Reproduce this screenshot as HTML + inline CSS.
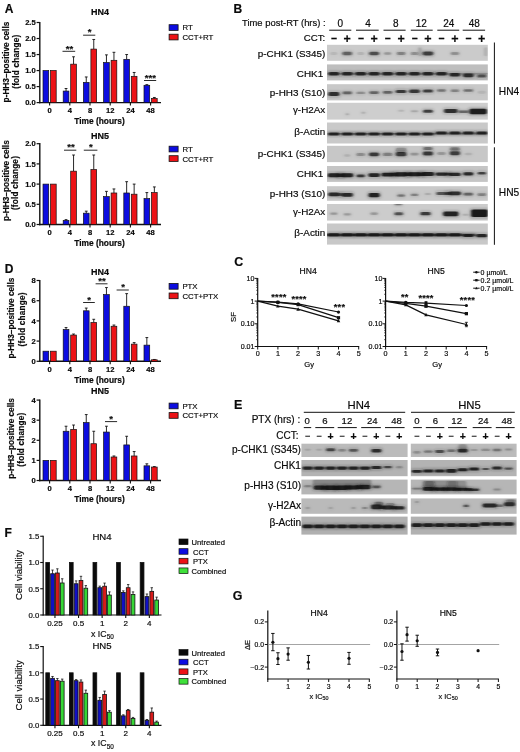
<!DOCTYPE html>
<html><head><meta charset="utf-8"><title>Figure</title>
<style>
html,body{margin:0;padding:0;background:#fff;}
body{width:520px;height:752px;overflow:hidden;}
svg{display:block;font-family:"Liberation Sans", Arial, sans-serif;filter:blur(0.35px);}
text{stroke:#0a0a0a;stroke-width:0.18px;}
</style></head><body>
<svg width="520" height="752" viewBox="0 0 520 752">
<defs><filter id="bl" x="-5%" y="-50%" width="110%" height="200%"><feGaussianBlur stdDeviation="1.0 0.7"/></filter><filter id="bl2" x="-5%" y="-80%" width="110%" height="260%"><feGaussianBlur stdDeviation="1.8 1.3"/></filter></defs>
<rect width="520" height="752" fill="#ffffff"/>
<g id="panelA">
<text x="4.8" y="13" font-size="12" font-weight="bold" text-anchor="start" fill="#0a0a0a">A</text>
<line x1="39.8" y1="21.9" x2="39.8" y2="103.3" stroke="#111" stroke-width="1.4"/>
<line x1="39.1" y1="102.6" x2="161" y2="102.6" stroke="#111" stroke-width="1.4"/>
<line x1="36.6" y1="102.6" x2="39.8" y2="102.6" stroke="#111" stroke-width="1.2"/>
<text x="35.7" y="105.3" font-size="7.6" font-weight="bold" text-anchor="end" fill="#0a0a0a">0.0</text>
<line x1="36.6" y1="86.58" x2="39.8" y2="86.58" stroke="#111" stroke-width="1.2"/>
<text x="35.7" y="89.28" font-size="7.6" font-weight="bold" text-anchor="end" fill="#0a0a0a">0.5</text>
<line x1="36.6" y1="70.56" x2="39.8" y2="70.56" stroke="#111" stroke-width="1.2"/>
<text x="35.7" y="73.26" font-size="7.6" font-weight="bold" text-anchor="end" fill="#0a0a0a">1.0</text>
<line x1="36.6" y1="54.54" x2="39.8" y2="54.54" stroke="#111" stroke-width="1.2"/>
<text x="35.7" y="57.24" font-size="7.6" font-weight="bold" text-anchor="end" fill="#0a0a0a">1.5</text>
<line x1="36.6" y1="38.52" x2="39.8" y2="38.52" stroke="#111" stroke-width="1.2"/>
<text x="35.7" y="41.22" font-size="7.6" font-weight="bold" text-anchor="end" fill="#0a0a0a">2.0</text>
<line x1="36.6" y1="22.5" x2="39.8" y2="22.5" stroke="#111" stroke-width="1.2"/>
<text x="35.7" y="25.2" font-size="7.6" font-weight="bold" text-anchor="end" fill="#0a0a0a">2.5</text>
<rect x="43" y="70.56" width="5.7" height="32.04" fill="#0c0ce0" stroke="#111" stroke-width="0.7"/>
<rect x="50.5" y="70.56" width="5.7" height="32.04" fill="#ec1216" stroke="#111" stroke-width="0.7"/>
<line x1="49.6" y1="102.6" x2="49.6" y2="105.6" stroke="#111" stroke-width="1.1"/>
<text x="49.6" y="113" font-size="7.6" font-weight="bold" text-anchor="middle" fill="#0a0a0a">0</text>
<line x1="66.05" y1="91.0656" x2="66.05" y2="88.5024" stroke="#111" stroke-width="0.9"/>
<line x1="64.65" y1="88.5024" x2="67.45" y2="88.5024" stroke="#111" stroke-width="0.9"/>
<rect x="63.2" y="91.0656" width="5.7" height="11.5344" fill="#0c0ce0" stroke="#111" stroke-width="0.7"/>
<line x1="73.55" y1="64.152" x2="73.55" y2="56.7828" stroke="#111" stroke-width="0.9"/>
<line x1="72.15" y1="56.7828" x2="74.95" y2="56.7828" stroke="#111" stroke-width="0.9"/>
<rect x="70.7" y="64.152" width="5.7" height="38.448" fill="#ec1216" stroke="#111" stroke-width="0.7"/>
<line x1="69.8" y1="102.6" x2="69.8" y2="105.6" stroke="#111" stroke-width="1.1"/>
<text x="69.8" y="113" font-size="7.6" font-weight="bold" text-anchor="middle" fill="#0a0a0a">4</text>
<line x1="86.25" y1="82.4148" x2="86.25" y2="76.968" stroke="#111" stroke-width="0.9"/>
<line x1="84.85" y1="76.968" x2="87.65" y2="76.968" stroke="#111" stroke-width="0.9"/>
<rect x="83.4" y="82.4148" width="5.7" height="20.1852" fill="#0c0ce0" stroke="#111" stroke-width="0.7"/>
<line x1="93.75" y1="49.0932" x2="93.75" y2="39.4812" stroke="#111" stroke-width="0.9"/>
<line x1="92.35" y1="39.4812" x2="95.15" y2="39.4812" stroke="#111" stroke-width="0.9"/>
<rect x="90.9" y="49.0932" width="5.7" height="53.5068" fill="#ec1216" stroke="#111" stroke-width="0.7"/>
<line x1="90" y1="102.6" x2="90" y2="105.6" stroke="#111" stroke-width="1.1"/>
<text x="90" y="113" font-size="7.6" font-weight="bold" text-anchor="middle" fill="#0a0a0a">8</text>
<line x1="106.45" y1="62.55" x2="106.45" y2="54.8604" stroke="#111" stroke-width="0.9"/>
<line x1="105.05" y1="54.8604" x2="107.85" y2="54.8604" stroke="#111" stroke-width="0.9"/>
<rect x="103.6" y="62.55" width="5.7" height="40.05" fill="#0c0ce0" stroke="#111" stroke-width="0.7"/>
<line x1="113.95" y1="60.3072" x2="113.95" y2="52.2972" stroke="#111" stroke-width="0.9"/>
<line x1="112.55" y1="52.2972" x2="115.35" y2="52.2972" stroke="#111" stroke-width="0.9"/>
<rect x="111.1" y="60.3072" width="5.7" height="42.2928" fill="#ec1216" stroke="#111" stroke-width="0.7"/>
<line x1="110.2" y1="102.6" x2="110.2" y2="105.6" stroke="#111" stroke-width="1.1"/>
<text x="110.2" y="113" font-size="7.6" font-weight="bold" text-anchor="middle" fill="#0a0a0a">12</text>
<line x1="126.65" y1="59.346" x2="126.65" y2="54.54" stroke="#111" stroke-width="0.9"/>
<line x1="125.25" y1="54.54" x2="128.05" y2="54.54" stroke="#111" stroke-width="0.9"/>
<rect x="123.8" y="59.346" width="5.7" height="43.254" fill="#0c0ce0" stroke="#111" stroke-width="0.7"/>
<line x1="134.15" y1="76.3272" x2="134.15" y2="72.4824" stroke="#111" stroke-width="0.9"/>
<line x1="132.75" y1="72.4824" x2="135.55" y2="72.4824" stroke="#111" stroke-width="0.9"/>
<rect x="131.3" y="76.3272" width="5.7" height="26.2728" fill="#ec1216" stroke="#111" stroke-width="0.7"/>
<line x1="130.4" y1="102.6" x2="130.4" y2="105.6" stroke="#111" stroke-width="1.1"/>
<text x="130.4" y="113" font-size="7.6" font-weight="bold" text-anchor="middle" fill="#0a0a0a">24</text>
<line x1="146.85" y1="85.2984" x2="146.85" y2="84.6576" stroke="#111" stroke-width="0.9"/>
<line x1="145.45" y1="84.6576" x2="148.25" y2="84.6576" stroke="#111" stroke-width="0.9"/>
<rect x="144" y="85.2984" width="5.7" height="17.3016" fill="#0c0ce0" stroke="#111" stroke-width="0.7"/>
<line x1="154.35" y1="98.4348" x2="154.35" y2="97.4736" stroke="#111" stroke-width="0.9"/>
<line x1="152.95" y1="97.4736" x2="155.75" y2="97.4736" stroke="#111" stroke-width="0.9"/>
<rect x="151.5" y="98.4348" width="5.7" height="4.1652" fill="#ec1216" stroke="#111" stroke-width="0.7"/>
<line x1="150.6" y1="102.6" x2="150.6" y2="105.6" stroke="#111" stroke-width="1.1"/>
<text x="150.6" y="113" font-size="7.6" font-weight="bold" text-anchor="middle" fill="#0a0a0a">48</text>
<text x="100" y="15.2" font-size="9" font-weight="bold" text-anchor="middle" fill="#0a0a0a">HN4</text>
<text x="99.5" y="123.5" font-size="8.4" font-weight="bold" text-anchor="middle" fill="#0a0a0a">Time (hours)</text>
<text x="8.6" y="62.05" font-size="8.25" font-weight="bold" text-anchor="middle" fill="#0a0a0a" transform="rotate(-90 8.6 62.05)">p-HH3–positive cells</text>
<text x="18.5" y="61.75" font-size="8.25" font-weight="bold" text-anchor="middle" fill="#0a0a0a" transform="rotate(-90 18.5 61.75)" textLength="54" lengthAdjust="spacing">(fold change)</text>
<line x1="62.5" y1="51.3" x2="75.2" y2="51.3" stroke="#111" stroke-width="0.9"/>
<text x="69.6" y="51.5" font-size="9.6" font-weight="bold" text-anchor="middle" fill="#0a0a0a">**</text>
<line x1="83.1" y1="35.2" x2="95.3" y2="35.2" stroke="#111" stroke-width="0.9"/>
<text x="89.6" y="35.4" font-size="9.6" font-weight="bold" text-anchor="middle" fill="#0a0a0a">*</text>
<line x1="144" y1="80.5" x2="156.2" y2="80.5" stroke="#111" stroke-width="0.9"/>
<text x="150.4" y="80.7" font-size="9.6" font-weight="bold" text-anchor="middle" fill="#0a0a0a">***</text>
<rect x="169.1" y="24.7" width="9" height="5.7" fill="#0c0ce0" stroke="#111" stroke-width="0.8"/>
<rect x="169.1" y="34.2" width="9" height="5.7" fill="#ec1216" stroke="#111" stroke-width="0.8"/>
<text x="182.4" y="30.3" font-size="7.8" text-anchor="start" fill="#0a0a0a">RT</text>
<text x="182.4" y="40" font-size="7.8" text-anchor="start" fill="#0a0a0a">CCT+RT</text>
<line x1="39.8" y1="143.1" x2="39.8" y2="225.2" stroke="#111" stroke-width="1.4"/>
<line x1="39.1" y1="224.5" x2="161" y2="224.5" stroke="#111" stroke-width="1.4"/>
<line x1="36.6" y1="224.5" x2="39.8" y2="224.5" stroke="#111" stroke-width="1.2"/>
<text x="35.7" y="227.2" font-size="7.6" font-weight="bold" text-anchor="end" fill="#0a0a0a">0.0</text>
<line x1="36.6" y1="204.3" x2="39.8" y2="204.3" stroke="#111" stroke-width="1.2"/>
<text x="35.7" y="207" font-size="7.6" font-weight="bold" text-anchor="end" fill="#0a0a0a">0.5</text>
<line x1="36.6" y1="184.1" x2="39.8" y2="184.1" stroke="#111" stroke-width="1.2"/>
<text x="35.7" y="186.8" font-size="7.6" font-weight="bold" text-anchor="end" fill="#0a0a0a">1.0</text>
<line x1="36.6" y1="163.9" x2="39.8" y2="163.9" stroke="#111" stroke-width="1.2"/>
<text x="35.7" y="166.6" font-size="7.6" font-weight="bold" text-anchor="end" fill="#0a0a0a">1.5</text>
<line x1="36.6" y1="143.7" x2="39.8" y2="143.7" stroke="#111" stroke-width="1.2"/>
<text x="35.7" y="146.4" font-size="7.6" font-weight="bold" text-anchor="end" fill="#0a0a0a">2.0</text>
<rect x="43" y="184.1" width="5.7" height="40.4" fill="#0c0ce0" stroke="#111" stroke-width="0.7"/>
<rect x="50.5" y="184.1" width="5.7" height="40.4" fill="#ec1216" stroke="#111" stroke-width="0.7"/>
<line x1="49.6" y1="224.5" x2="49.6" y2="227.5" stroke="#111" stroke-width="1.1"/>
<text x="49.6" y="234.9" font-size="7.6" font-weight="bold" text-anchor="middle" fill="#0a0a0a">0</text>
<line x1="66.05" y1="220.46" x2="66.05" y2="219.652" stroke="#111" stroke-width="0.9"/>
<line x1="64.65" y1="219.652" x2="67.45" y2="219.652" stroke="#111" stroke-width="0.9"/>
<rect x="63.2" y="220.46" width="5.7" height="4.04" fill="#0c0ce0" stroke="#111" stroke-width="0.7"/>
<line x1="73.55" y1="171.172" x2="73.55" y2="155.012" stroke="#111" stroke-width="0.9"/>
<line x1="72.15" y1="155.012" x2="74.95" y2="155.012" stroke="#111" stroke-width="0.9"/>
<rect x="70.7" y="171.172" width="5.7" height="53.328" fill="#ec1216" stroke="#111" stroke-width="0.7"/>
<line x1="69.8" y1="224.5" x2="69.8" y2="227.5" stroke="#111" stroke-width="1.1"/>
<text x="69.8" y="234.9" font-size="7.6" font-weight="bold" text-anchor="middle" fill="#0a0a0a">4</text>
<line x1="86.25" y1="213.188" x2="86.25" y2="211.168" stroke="#111" stroke-width="0.9"/>
<line x1="84.85" y1="211.168" x2="87.65" y2="211.168" stroke="#111" stroke-width="0.9"/>
<rect x="83.4" y="213.188" width="5.7" height="11.312" fill="#0c0ce0" stroke="#111" stroke-width="0.7"/>
<line x1="93.75" y1="169.556" x2="93.75" y2="155.012" stroke="#111" stroke-width="0.9"/>
<line x1="92.35" y1="155.012" x2="95.15" y2="155.012" stroke="#111" stroke-width="0.9"/>
<rect x="90.9" y="169.556" width="5.7" height="54.944" fill="#ec1216" stroke="#111" stroke-width="0.7"/>
<line x1="90" y1="224.5" x2="90" y2="227.5" stroke="#111" stroke-width="1.1"/>
<text x="90" y="234.9" font-size="7.6" font-weight="bold" text-anchor="middle" fill="#0a0a0a">8</text>
<line x1="106.45" y1="196.624" x2="106.45" y2="191.372" stroke="#111" stroke-width="0.9"/>
<line x1="105.05" y1="191.372" x2="107.85" y2="191.372" stroke="#111" stroke-width="0.9"/>
<rect x="103.6" y="196.624" width="5.7" height="27.876" fill="#0c0ce0" stroke="#111" stroke-width="0.7"/>
<line x1="113.95" y1="192.988" x2="113.95" y2="188.948" stroke="#111" stroke-width="0.9"/>
<line x1="112.55" y1="188.948" x2="115.35" y2="188.948" stroke="#111" stroke-width="0.9"/>
<rect x="111.1" y="192.988" width="5.7" height="31.512" fill="#ec1216" stroke="#111" stroke-width="0.7"/>
<line x1="110.2" y1="224.5" x2="110.2" y2="227.5" stroke="#111" stroke-width="1.1"/>
<text x="110.2" y="234.9" font-size="7.6" font-weight="bold" text-anchor="middle" fill="#0a0a0a">12</text>
<line x1="126.65" y1="192.988" x2="126.65" y2="181.676" stroke="#111" stroke-width="0.9"/>
<line x1="125.25" y1="181.676" x2="128.05" y2="181.676" stroke="#111" stroke-width="0.9"/>
<rect x="123.8" y="192.988" width="5.7" height="31.512" fill="#0c0ce0" stroke="#111" stroke-width="0.7"/>
<line x1="134.15" y1="194.2" x2="134.15" y2="184.1" stroke="#111" stroke-width="0.9"/>
<line x1="132.75" y1="184.1" x2="135.55" y2="184.1" stroke="#111" stroke-width="0.9"/>
<rect x="131.3" y="194.2" width="5.7" height="30.3" fill="#ec1216" stroke="#111" stroke-width="0.7"/>
<line x1="130.4" y1="224.5" x2="130.4" y2="227.5" stroke="#111" stroke-width="1.1"/>
<text x="130.4" y="234.9" font-size="7.6" font-weight="bold" text-anchor="middle" fill="#0a0a0a">24</text>
<line x1="146.85" y1="198.644" x2="146.85" y2="192.584" stroke="#111" stroke-width="0.9"/>
<line x1="145.45" y1="192.584" x2="148.25" y2="192.584" stroke="#111" stroke-width="0.9"/>
<rect x="144" y="198.644" width="5.7" height="25.856" fill="#0c0ce0" stroke="#111" stroke-width="0.7"/>
<line x1="154.35" y1="192.584" x2="154.35" y2="186.928" stroke="#111" stroke-width="0.9"/>
<line x1="152.95" y1="186.928" x2="155.75" y2="186.928" stroke="#111" stroke-width="0.9"/>
<rect x="151.5" y="192.584" width="5.7" height="31.916" fill="#ec1216" stroke="#111" stroke-width="0.7"/>
<line x1="150.6" y1="224.5" x2="150.6" y2="227.5" stroke="#111" stroke-width="1.1"/>
<text x="150.6" y="234.9" font-size="7.6" font-weight="bold" text-anchor="middle" fill="#0a0a0a">48</text>
<text x="100" y="139" font-size="9" font-weight="bold" text-anchor="middle" fill="#0a0a0a">HN5</text>
<text x="99.5" y="246" font-size="8.4" font-weight="bold" text-anchor="middle" fill="#0a0a0a">Time (hours)</text>
<text x="8.6" y="180.6" font-size="8.25" font-weight="bold" text-anchor="middle" fill="#0a0a0a" transform="rotate(-90 8.6 180.6)">p-HH3–positive cells</text>
<text x="18.5" y="183.1" font-size="8.25" font-weight="bold" text-anchor="middle" fill="#0a0a0a" transform="rotate(-90 18.5 183.1)" textLength="54" lengthAdjust="spacing">(fold change)</text>
<line x1="64" y1="150.2" x2="76.3" y2="150.2" stroke="#111" stroke-width="0.9"/>
<text x="71" y="150.4" font-size="9.6" font-weight="bold" text-anchor="middle" fill="#0a0a0a">**</text>
<line x1="83.8" y1="150.2" x2="97.4" y2="150.2" stroke="#111" stroke-width="0.9"/>
<text x="90.9" y="150.4" font-size="9.6" font-weight="bold" text-anchor="middle" fill="#0a0a0a">*</text>
<rect x="169.1" y="146.2" width="9" height="5.7" fill="#0c0ce0" stroke="#111" stroke-width="0.8"/>
<rect x="169.1" y="155.7" width="9" height="5.7" fill="#ec1216" stroke="#111" stroke-width="0.8"/>
<text x="182.4" y="151.8" font-size="7.8" text-anchor="start" fill="#0a0a0a">RT</text>
<text x="182.4" y="161.5" font-size="7.8" text-anchor="start" fill="#0a0a0a">CCT+RT</text>
</g>
<g id="panelD">
<text x="4.8" y="272.6" font-size="12" font-weight="bold" text-anchor="start" fill="#0a0a0a">D</text>
<line x1="39.8" y1="279.9" x2="39.8" y2="362" stroke="#111" stroke-width="1.4"/>
<line x1="39.1" y1="361.3" x2="161" y2="361.3" stroke="#111" stroke-width="1.4"/>
<line x1="36.6" y1="361.3" x2="39.8" y2="361.3" stroke="#111" stroke-width="1.2"/>
<text x="35.7" y="364" font-size="7.6" font-weight="bold" text-anchor="end" fill="#0a0a0a">0</text>
<line x1="36.6" y1="341.1" x2="39.8" y2="341.1" stroke="#111" stroke-width="1.2"/>
<text x="35.7" y="343.8" font-size="7.6" font-weight="bold" text-anchor="end" fill="#0a0a0a">2</text>
<line x1="36.6" y1="320.9" x2="39.8" y2="320.9" stroke="#111" stroke-width="1.2"/>
<text x="35.7" y="323.6" font-size="7.6" font-weight="bold" text-anchor="end" fill="#0a0a0a">4</text>
<line x1="36.6" y1="300.7" x2="39.8" y2="300.7" stroke="#111" stroke-width="1.2"/>
<text x="35.7" y="303.4" font-size="7.6" font-weight="bold" text-anchor="end" fill="#0a0a0a">6</text>
<line x1="36.6" y1="280.5" x2="39.8" y2="280.5" stroke="#111" stroke-width="1.2"/>
<text x="35.7" y="283.2" font-size="7.6" font-weight="bold" text-anchor="end" fill="#0a0a0a">8</text>
<rect x="43" y="351.2" width="5.7" height="10.1" fill="#0c0ce0" stroke="#111" stroke-width="0.7"/>
<rect x="50.5" y="351.2" width="5.7" height="10.1" fill="#ec1216" stroke="#111" stroke-width="0.7"/>
<line x1="49.6" y1="361.3" x2="49.6" y2="364.3" stroke="#111" stroke-width="1.1"/>
<text x="49.6" y="371.7" font-size="7.6" font-weight="bold" text-anchor="middle" fill="#0a0a0a">0</text>
<line x1="66.05" y1="329.586" x2="66.05" y2="327.566" stroke="#111" stroke-width="0.9"/>
<line x1="64.65" y1="327.566" x2="67.45" y2="327.566" stroke="#111" stroke-width="0.9"/>
<rect x="63.2" y="329.586" width="5.7" height="31.714" fill="#0c0ce0" stroke="#111" stroke-width="0.7"/>
<line x1="73.55" y1="335.04" x2="73.55" y2="334.03" stroke="#111" stroke-width="0.9"/>
<line x1="72.15" y1="334.03" x2="74.95" y2="334.03" stroke="#111" stroke-width="0.9"/>
<rect x="70.7" y="335.04" width="5.7" height="26.26" fill="#ec1216" stroke="#111" stroke-width="0.7"/>
<line x1="69.8" y1="361.3" x2="69.8" y2="364.3" stroke="#111" stroke-width="1.1"/>
<text x="69.8" y="371.7" font-size="7.6" font-weight="bold" text-anchor="middle" fill="#0a0a0a">4</text>
<line x1="86.25" y1="310.8" x2="86.25" y2="308.073" stroke="#111" stroke-width="0.9"/>
<line x1="84.85" y1="308.073" x2="87.65" y2="308.073" stroke="#111" stroke-width="0.9"/>
<rect x="83.4" y="310.8" width="5.7" height="50.5" fill="#0c0ce0" stroke="#111" stroke-width="0.7"/>
<line x1="93.75" y1="322.516" x2="93.75" y2="319.284" stroke="#111" stroke-width="0.9"/>
<line x1="92.35" y1="319.284" x2="95.15" y2="319.284" stroke="#111" stroke-width="0.9"/>
<rect x="90.9" y="322.516" width="5.7" height="38.784" fill="#ec1216" stroke="#111" stroke-width="0.7"/>
<line x1="90" y1="361.3" x2="90" y2="364.3" stroke="#111" stroke-width="1.1"/>
<text x="90" y="371.7" font-size="7.6" font-weight="bold" text-anchor="middle" fill="#0a0a0a">8</text>
<line x1="106.45" y1="294.64" x2="106.45" y2="287.57" stroke="#111" stroke-width="0.9"/>
<line x1="105.05" y1="287.57" x2="107.85" y2="287.57" stroke="#111" stroke-width="0.9"/>
<rect x="103.6" y="294.64" width="5.7" height="66.66" fill="#0c0ce0" stroke="#111" stroke-width="0.7"/>
<line x1="113.95" y1="326.253" x2="113.95" y2="325.041" stroke="#111" stroke-width="0.9"/>
<line x1="112.55" y1="325.041" x2="115.35" y2="325.041" stroke="#111" stroke-width="0.9"/>
<rect x="111.1" y="326.253" width="5.7" height="35.047" fill="#ec1216" stroke="#111" stroke-width="0.7"/>
<line x1="110.2" y1="361.3" x2="110.2" y2="364.3" stroke="#111" stroke-width="1.1"/>
<text x="110.2" y="371.7" font-size="7.6" font-weight="bold" text-anchor="middle" fill="#0a0a0a">12</text>
<line x1="126.65" y1="306.255" x2="126.65" y2="293.63" stroke="#111" stroke-width="0.9"/>
<line x1="125.25" y1="293.63" x2="128.05" y2="293.63" stroke="#111" stroke-width="0.9"/>
<rect x="123.8" y="306.255" width="5.7" height="55.045" fill="#0c0ce0" stroke="#111" stroke-width="0.7"/>
<line x1="134.15" y1="344.13" x2="134.15" y2="342.615" stroke="#111" stroke-width="0.9"/>
<line x1="132.75" y1="342.615" x2="135.55" y2="342.615" stroke="#111" stroke-width="0.9"/>
<rect x="131.3" y="344.13" width="5.7" height="17.17" fill="#ec1216" stroke="#111" stroke-width="0.7"/>
<line x1="130.4" y1="361.3" x2="130.4" y2="364.3" stroke="#111" stroke-width="1.1"/>
<text x="130.4" y="371.7" font-size="7.6" font-weight="bold" text-anchor="middle" fill="#0a0a0a">24</text>
<line x1="146.85" y1="345.14" x2="146.85" y2="337.565" stroke="#111" stroke-width="0.9"/>
<line x1="145.45" y1="337.565" x2="148.25" y2="337.565" stroke="#111" stroke-width="0.9"/>
<rect x="144" y="345.14" width="5.7" height="16.16" fill="#0c0ce0" stroke="#111" stroke-width="0.7"/>
<line x1="154.35" y1="359.785" x2="154.35" y2="359.482" stroke="#111" stroke-width="0.9"/>
<line x1="152.95" y1="359.482" x2="155.75" y2="359.482" stroke="#111" stroke-width="0.9"/>
<rect x="151.5" y="359.785" width="5.7" height="1.515" fill="#ec1216" stroke="#111" stroke-width="0.7"/>
<line x1="150.6" y1="361.3" x2="150.6" y2="364.3" stroke="#111" stroke-width="1.1"/>
<text x="150.6" y="371.7" font-size="7.6" font-weight="bold" text-anchor="middle" fill="#0a0a0a">48</text>
<text x="100" y="274.6" font-size="9" font-weight="bold" text-anchor="middle" fill="#0a0a0a">HN4</text>
<text x="99.5" y="382.5" font-size="8.4" font-weight="bold" text-anchor="middle" fill="#0a0a0a">Time (hours)</text>
<text x="14.4" y="318.1" font-size="8.25" font-weight="bold" text-anchor="middle" fill="#0a0a0a" transform="rotate(-90 14.4 318.1)">p-HH3–positive cells</text>
<text x="24.7" y="319.4" font-size="8.25" font-weight="bold" text-anchor="middle" fill="#0a0a0a" transform="rotate(-90 24.7 319.4)" textLength="54" lengthAdjust="spacing">(fold change)</text>
<line x1="83.1" y1="302.5" x2="94.8" y2="302.5" stroke="#111" stroke-width="0.9"/>
<text x="89" y="302.7" font-size="9.6" font-weight="bold" text-anchor="middle" fill="#0a0a0a">*</text>
<line x1="95.6" y1="283.8" x2="107.5" y2="283.8" stroke="#111" stroke-width="0.9"/>
<text x="101.9" y="284" font-size="9.6" font-weight="bold" text-anchor="middle" fill="#0a0a0a">**</text>
<line x1="116.6" y1="290" x2="128.8" y2="290" stroke="#111" stroke-width="0.9"/>
<text x="123.1" y="290.2" font-size="9.6" font-weight="bold" text-anchor="middle" fill="#0a0a0a">*</text>
<rect x="169.1" y="283.5" width="9" height="5.7" fill="#0c0ce0" stroke="#111" stroke-width="0.8"/>
<rect x="169.1" y="293" width="9" height="5.7" fill="#ec1216" stroke="#111" stroke-width="0.8"/>
<text x="182.4" y="289.1" font-size="7.8" text-anchor="start" fill="#0a0a0a">PTX</text>
<text x="182.4" y="298.8" font-size="7.8" text-anchor="start" fill="#0a0a0a">CCT+PTX</text>
<line x1="39.8" y1="399.5" x2="39.8" y2="481.2" stroke="#111" stroke-width="1.4"/>
<line x1="39.1" y1="480.5" x2="161" y2="480.5" stroke="#111" stroke-width="1.4"/>
<line x1="36.6" y1="480.5" x2="39.8" y2="480.5" stroke="#111" stroke-width="1.2"/>
<text x="35.7" y="483.2" font-size="7.6" font-weight="bold" text-anchor="end" fill="#0a0a0a">0</text>
<line x1="36.6" y1="460.4" x2="39.8" y2="460.4" stroke="#111" stroke-width="1.2"/>
<text x="35.7" y="463.1" font-size="7.6" font-weight="bold" text-anchor="end" fill="#0a0a0a">1</text>
<line x1="36.6" y1="440.3" x2="39.8" y2="440.3" stroke="#111" stroke-width="1.2"/>
<text x="35.7" y="443" font-size="7.6" font-weight="bold" text-anchor="end" fill="#0a0a0a">2</text>
<line x1="36.6" y1="420.2" x2="39.8" y2="420.2" stroke="#111" stroke-width="1.2"/>
<text x="35.7" y="422.9" font-size="7.6" font-weight="bold" text-anchor="end" fill="#0a0a0a">3</text>
<line x1="36.6" y1="400.1" x2="39.8" y2="400.1" stroke="#111" stroke-width="1.2"/>
<text x="35.7" y="402.8" font-size="7.6" font-weight="bold" text-anchor="end" fill="#0a0a0a">4</text>
<rect x="43" y="460.4" width="5.7" height="20.1" fill="#0c0ce0" stroke="#111" stroke-width="0.7"/>
<rect x="50.5" y="460.4" width="5.7" height="20.1" fill="#ec1216" stroke="#111" stroke-width="0.7"/>
<line x1="49.6" y1="480.5" x2="49.6" y2="483.5" stroke="#111" stroke-width="1.1"/>
<text x="49.6" y="490.9" font-size="7.6" font-weight="bold" text-anchor="middle" fill="#0a0a0a">0</text>
<line x1="66.05" y1="431.255" x2="66.05" y2="426.23" stroke="#111" stroke-width="0.9"/>
<line x1="64.65" y1="426.23" x2="67.45" y2="426.23" stroke="#111" stroke-width="0.9"/>
<rect x="63.2" y="431.255" width="5.7" height="49.245" fill="#0c0ce0" stroke="#111" stroke-width="0.7"/>
<line x1="73.55" y1="429.446" x2="73.55" y2="425.024" stroke="#111" stroke-width="0.9"/>
<line x1="72.15" y1="425.024" x2="74.95" y2="425.024" stroke="#111" stroke-width="0.9"/>
<rect x="70.7" y="429.446" width="5.7" height="51.054" fill="#ec1216" stroke="#111" stroke-width="0.7"/>
<line x1="69.8" y1="480.5" x2="69.8" y2="483.5" stroke="#111" stroke-width="1.1"/>
<text x="69.8" y="490.9" font-size="7.6" font-weight="bold" text-anchor="middle" fill="#0a0a0a">4</text>
<line x1="86.25" y1="422.612" x2="86.25" y2="414.572" stroke="#111" stroke-width="0.9"/>
<line x1="84.85" y1="414.572" x2="87.65" y2="414.572" stroke="#111" stroke-width="0.9"/>
<rect x="83.4" y="422.612" width="5.7" height="57.888" fill="#0c0ce0" stroke="#111" stroke-width="0.7"/>
<line x1="93.75" y1="443.717" x2="93.75" y2="431.255" stroke="#111" stroke-width="0.9"/>
<line x1="92.35" y1="431.255" x2="95.15" y2="431.255" stroke="#111" stroke-width="0.9"/>
<rect x="90.9" y="443.717" width="5.7" height="36.783" fill="#ec1216" stroke="#111" stroke-width="0.7"/>
<line x1="90" y1="480.5" x2="90" y2="483.5" stroke="#111" stroke-width="1.1"/>
<text x="90" y="490.9" font-size="7.6" font-weight="bold" text-anchor="middle" fill="#0a0a0a">8</text>
<line x1="106.45" y1="432.059" x2="106.45" y2="426.23" stroke="#111" stroke-width="0.9"/>
<line x1="105.05" y1="426.23" x2="107.85" y2="426.23" stroke="#111" stroke-width="0.9"/>
<rect x="103.6" y="432.059" width="5.7" height="48.441" fill="#0c0ce0" stroke="#111" stroke-width="0.7"/>
<line x1="113.95" y1="456.983" x2="113.95" y2="455.978" stroke="#111" stroke-width="0.9"/>
<line x1="112.55" y1="455.978" x2="115.35" y2="455.978" stroke="#111" stroke-width="0.9"/>
<rect x="111.1" y="456.983" width="5.7" height="23.517" fill="#ec1216" stroke="#111" stroke-width="0.7"/>
<line x1="110.2" y1="480.5" x2="110.2" y2="483.5" stroke="#111" stroke-width="1.1"/>
<text x="110.2" y="490.9" font-size="7.6" font-weight="bold" text-anchor="middle" fill="#0a0a0a">12</text>
<line x1="126.65" y1="444.923" x2="126.65" y2="436.28" stroke="#111" stroke-width="0.9"/>
<line x1="125.25" y1="436.28" x2="128.05" y2="436.28" stroke="#111" stroke-width="0.9"/>
<rect x="123.8" y="444.923" width="5.7" height="35.577" fill="#0c0ce0" stroke="#111" stroke-width="0.7"/>
<line x1="134.15" y1="455.978" x2="134.15" y2="451.556" stroke="#111" stroke-width="0.9"/>
<line x1="132.75" y1="451.556" x2="135.55" y2="451.556" stroke="#111" stroke-width="0.9"/>
<rect x="131.3" y="455.978" width="5.7" height="24.522" fill="#ec1216" stroke="#111" stroke-width="0.7"/>
<line x1="130.4" y1="480.5" x2="130.4" y2="483.5" stroke="#111" stroke-width="1.1"/>
<text x="130.4" y="490.9" font-size="7.6" font-weight="bold" text-anchor="middle" fill="#0a0a0a">24</text>
<line x1="146.85" y1="465.827" x2="146.85" y2="463.817" stroke="#111" stroke-width="0.9"/>
<line x1="145.45" y1="463.817" x2="148.25" y2="463.817" stroke="#111" stroke-width="0.9"/>
<rect x="144" y="465.827" width="5.7" height="14.673" fill="#0c0ce0" stroke="#111" stroke-width="0.7"/>
<line x1="154.35" y1="467.033" x2="154.35" y2="466.631" stroke="#111" stroke-width="0.9"/>
<line x1="152.95" y1="466.631" x2="155.75" y2="466.631" stroke="#111" stroke-width="0.9"/>
<rect x="151.5" y="467.033" width="5.7" height="13.467" fill="#ec1216" stroke="#111" stroke-width="0.7"/>
<line x1="150.6" y1="480.5" x2="150.6" y2="483.5" stroke="#111" stroke-width="1.1"/>
<text x="150.6" y="490.9" font-size="7.6" font-weight="bold" text-anchor="middle" fill="#0a0a0a">48</text>
<text x="100" y="394" font-size="9" font-weight="bold" text-anchor="middle" fill="#0a0a0a">HN5</text>
<text x="99.5" y="502" font-size="8.4" font-weight="bold" text-anchor="middle" fill="#0a0a0a">Time (hours)</text>
<text x="14.4" y="438.5" font-size="8.25" font-weight="bold" text-anchor="middle" fill="#0a0a0a" transform="rotate(-90 14.4 438.5)">p-HH3–positive cells</text>
<text x="24.5" y="439.7" font-size="8.25" font-weight="bold" text-anchor="middle" fill="#0a0a0a" transform="rotate(-90 24.5 439.7)" textLength="54" lengthAdjust="spacing">(fold change)</text>
<line x1="105" y1="421.6" x2="117.1" y2="421.6" stroke="#111" stroke-width="0.9"/>
<text x="111.2" y="421.8" font-size="9.6" font-weight="bold" text-anchor="middle" fill="#0a0a0a">*</text>
<rect x="169.1" y="403.1" width="9" height="5.7" fill="#0c0ce0" stroke="#111" stroke-width="0.8"/>
<rect x="169.1" y="412.6" width="9" height="5.7" fill="#ec1216" stroke="#111" stroke-width="0.8"/>
<text x="182.4" y="408.7" font-size="7.8" text-anchor="start" fill="#0a0a0a">PTX</text>
<text x="182.4" y="418.4" font-size="7.8" text-anchor="start" fill="#0a0a0a">CCT+PTX</text>
</g>
<g id="panelF">
<text x="4.6" y="536.6" font-size="12" font-weight="bold" text-anchor="start" fill="#0a0a0a">F</text>
<line x1="43.2" y1="535.75" x2="43.2" y2="615.5" stroke="#111" stroke-width="1.2"/>
<line x1="42.7" y1="615" x2="161.5" y2="615" stroke="#111" stroke-width="1.2"/>
<line x1="40.2" y1="615" x2="43.2" y2="615" stroke="#111" stroke-width="1.1"/>
<text x="39.3" y="617.9" font-size="7.8" text-anchor="end" fill="#0a0a0a">0.0</text>
<line x1="40.2" y1="588.75" x2="43.2" y2="588.75" stroke="#111" stroke-width="1.1"/>
<text x="39.3" y="591.65" font-size="7.8" text-anchor="end" fill="#0a0a0a">0.5</text>
<line x1="40.2" y1="562.5" x2="43.2" y2="562.5" stroke="#111" stroke-width="1.1"/>
<text x="39.3" y="565.4" font-size="7.8" text-anchor="end" fill="#0a0a0a">1.0</text>
<line x1="40.2" y1="536.25" x2="43.2" y2="536.25" stroke="#111" stroke-width="1.1"/>
<text x="39.3" y="539.15" font-size="7.8" text-anchor="end" fill="#0a0a0a">1.5</text>
<rect x="45.8" y="562.5" width="3.75" height="52.5" fill="#0a0a0a" stroke="#111" stroke-width="0.8"/>
<line x1="52.525" y1="573.735" x2="52.525" y2="570.06" stroke="#111" stroke-width="0.8"/>
<line x1="51.325" y1="570.06" x2="53.725" y2="570.06" stroke="#111" stroke-width="0.8"/>
<rect x="50.65" y="573.735" width="3.75" height="41.265" fill="#1010c4" stroke="#111" stroke-width="0.8"/>
<line x1="57.375" y1="573" x2="57.375" y2="568.8" stroke="#111" stroke-width="0.8"/>
<line x1="56.175" y1="568.8" x2="58.575" y2="568.8" stroke="#111" stroke-width="0.8"/>
<rect x="55.5" y="573" width="3.75" height="42" fill="#d61a1a" stroke="#111" stroke-width="0.8"/>
<line x1="62.225" y1="582.975" x2="62.225" y2="578.775" stroke="#111" stroke-width="0.8"/>
<line x1="61.025" y1="578.775" x2="63.425" y2="578.775" stroke="#111" stroke-width="0.8"/>
<rect x="60.35" y="582.975" width="3.75" height="32.025" fill="#36d636" stroke="#111" stroke-width="0.8"/>
<line x1="54.95" y1="615" x2="54.95" y2="618" stroke="#111" stroke-width="1.1"/>
<text x="54.95" y="626" font-size="8" text-anchor="middle" fill="#0a0a0a">0.25</text>
<rect x="69.4" y="562.5" width="3.75" height="52.5" fill="#0a0a0a" stroke="#111" stroke-width="0.8"/>
<line x1="76.125" y1="583.763" x2="76.125" y2="580.875" stroke="#111" stroke-width="0.8"/>
<line x1="74.925" y1="580.875" x2="77.325" y2="580.875" stroke="#111" stroke-width="0.8"/>
<rect x="74.25" y="583.763" width="3.75" height="31.2375" fill="#1010c4" stroke="#111" stroke-width="0.8"/>
<line x1="80.975" y1="580.508" x2="80.975" y2="576.308" stroke="#111" stroke-width="0.8"/>
<line x1="79.775" y1="576.308" x2="82.175" y2="576.308" stroke="#111" stroke-width="0.8"/>
<rect x="79.1" y="580.508" width="3.75" height="34.4925" fill="#d61a1a" stroke="#111" stroke-width="0.8"/>
<line x1="85.825" y1="588.225" x2="85.825" y2="585.6" stroke="#111" stroke-width="0.8"/>
<line x1="84.625" y1="585.6" x2="87.025" y2="585.6" stroke="#111" stroke-width="0.8"/>
<rect x="83.95" y="588.225" width="3.75" height="26.775" fill="#36d636" stroke="#111" stroke-width="0.8"/>
<line x1="78.55" y1="615" x2="78.55" y2="618" stroke="#111" stroke-width="1.1"/>
<text x="78.55" y="626" font-size="8" text-anchor="middle" fill="#0a0a0a">0.5</text>
<rect x="93" y="562.5" width="3.75" height="52.5" fill="#0a0a0a" stroke="#111" stroke-width="0.8"/>
<line x1="99.725" y1="587.7" x2="99.725" y2="586.125" stroke="#111" stroke-width="0.8"/>
<line x1="98.525" y1="586.125" x2="100.925" y2="586.125" stroke="#111" stroke-width="0.8"/>
<rect x="97.85" y="587.7" width="3.75" height="27.3" fill="#1010c4" stroke="#111" stroke-width="0.8"/>
<line x1="104.575" y1="586.23" x2="104.575" y2="583.08" stroke="#111" stroke-width="0.8"/>
<line x1="103.375" y1="583.08" x2="105.775" y2="583.08" stroke="#111" stroke-width="0.8"/>
<rect x="102.7" y="586.23" width="3.75" height="28.77" fill="#d61a1a" stroke="#111" stroke-width="0.8"/>
<line x1="109.425" y1="595.05" x2="109.425" y2="591.9" stroke="#111" stroke-width="0.8"/>
<line x1="108.225" y1="591.9" x2="110.625" y2="591.9" stroke="#111" stroke-width="0.8"/>
<rect x="107.55" y="595.05" width="3.75" height="19.95" fill="#36d636" stroke="#111" stroke-width="0.8"/>
<line x1="102.15" y1="615" x2="102.15" y2="618" stroke="#111" stroke-width="1.1"/>
<text x="102.15" y="626" font-size="8" text-anchor="middle" fill="#0a0a0a">1</text>
<rect x="116.6" y="562.5" width="3.75" height="52.5" fill="#0a0a0a" stroke="#111" stroke-width="0.8"/>
<line x1="123.325" y1="592.425" x2="123.325" y2="590.85" stroke="#111" stroke-width="0.8"/>
<line x1="122.125" y1="590.85" x2="124.525" y2="590.85" stroke="#111" stroke-width="0.8"/>
<rect x="121.45" y="592.425" width="3.75" height="22.575" fill="#1010c4" stroke="#111" stroke-width="0.8"/>
<line x1="128.175" y1="587.7" x2="128.175" y2="584.55" stroke="#111" stroke-width="0.8"/>
<line x1="126.975" y1="584.55" x2="129.375" y2="584.55" stroke="#111" stroke-width="0.8"/>
<rect x="126.3" y="587.7" width="3.75" height="27.3" fill="#d61a1a" stroke="#111" stroke-width="0.8"/>
<line x1="133.025" y1="594.525" x2="133.025" y2="591.9" stroke="#111" stroke-width="0.8"/>
<line x1="131.825" y1="591.9" x2="134.225" y2="591.9" stroke="#111" stroke-width="0.8"/>
<rect x="131.15" y="594.525" width="3.75" height="20.475" fill="#36d636" stroke="#111" stroke-width="0.8"/>
<line x1="125.75" y1="615" x2="125.75" y2="618" stroke="#111" stroke-width="1.1"/>
<text x="125.75" y="626" font-size="8" text-anchor="middle" fill="#0a0a0a">2</text>
<rect x="140.2" y="562.5" width="3.75" height="52.5" fill="#0a0a0a" stroke="#111" stroke-width="0.8"/>
<line x1="146.925" y1="596.625" x2="146.925" y2="594" stroke="#111" stroke-width="0.8"/>
<line x1="145.725" y1="594" x2="148.125" y2="594" stroke="#111" stroke-width="0.8"/>
<rect x="145.05" y="596.625" width="3.75" height="18.375" fill="#1010c4" stroke="#111" stroke-width="0.8"/>
<line x1="151.775" y1="591.375" x2="151.775" y2="587.7" stroke="#111" stroke-width="0.8"/>
<line x1="150.575" y1="587.7" x2="152.975" y2="587.7" stroke="#111" stroke-width="0.8"/>
<rect x="149.9" y="591.375" width="3.75" height="23.625" fill="#d61a1a" stroke="#111" stroke-width="0.8"/>
<line x1="156.625" y1="600.038" x2="156.625" y2="597.15" stroke="#111" stroke-width="0.8"/>
<line x1="155.425" y1="597.15" x2="157.825" y2="597.15" stroke="#111" stroke-width="0.8"/>
<rect x="154.75" y="600.038" width="3.75" height="14.9625" fill="#36d636" stroke="#111" stroke-width="0.8"/>
<line x1="149.35" y1="615" x2="149.35" y2="618" stroke="#111" stroke-width="1.1"/>
<text x="149.35" y="626" font-size="8" text-anchor="middle" fill="#0a0a0a">4</text>
<text x="102" y="540" font-size="9.6" text-anchor="middle" fill="#0a0a0a">HN4</text>
<text x="91" y="636.6" font-size="8.8" fill="#111">x IC<tspan font-size="6.4" dy="2.2">50</tspan></text>
<text x="21.9" y="575.025" font-size="9.5" text-anchor="middle" fill="#0a0a0a" transform="rotate(-90 21.9 575.025)">Cell viability</text>
<rect x="179" y="539" width="9" height="5.6" fill="#0a0a0a" stroke="#111" stroke-width="0.7"/>
<text x="191.6" y="544.9" font-size="7.6" text-anchor="start" fill="#0a0a0a">Untreated</text>
<rect x="179" y="548.65" width="9" height="5.6" fill="#0c0ce0" stroke="#111" stroke-width="0.7"/>
<text x="193" y="554.55" font-size="7.6" text-anchor="start" fill="#0a0a0a">CCT</text>
<rect x="179" y="558.3" width="9" height="5.6" fill="#ec1216" stroke="#111" stroke-width="0.7"/>
<text x="193" y="564.2" font-size="7.6" text-anchor="start" fill="#0a0a0a">PTX</text>
<rect x="179" y="567.95" width="9" height="5.6" fill="#3fe03a" stroke="#111" stroke-width="0.7"/>
<text x="191.6" y="573.85" font-size="7.6" text-anchor="start" fill="#0a0a0a">Combined</text>
<line x1="43.2" y1="646.05" x2="43.2" y2="725.8" stroke="#111" stroke-width="1.2"/>
<line x1="42.7" y1="725.3" x2="161.5" y2="725.3" stroke="#111" stroke-width="1.2"/>
<line x1="40.2" y1="725.3" x2="43.2" y2="725.3" stroke="#111" stroke-width="1.1"/>
<text x="39.3" y="728.2" font-size="7.8" text-anchor="end" fill="#0a0a0a">0.0</text>
<line x1="40.2" y1="699.05" x2="43.2" y2="699.05" stroke="#111" stroke-width="1.1"/>
<text x="39.3" y="701.95" font-size="7.8" text-anchor="end" fill="#0a0a0a">0.5</text>
<line x1="40.2" y1="672.8" x2="43.2" y2="672.8" stroke="#111" stroke-width="1.1"/>
<text x="39.3" y="675.7" font-size="7.8" text-anchor="end" fill="#0a0a0a">1.0</text>
<line x1="40.2" y1="646.55" x2="43.2" y2="646.55" stroke="#111" stroke-width="1.1"/>
<text x="39.3" y="649.45" font-size="7.8" text-anchor="end" fill="#0a0a0a">1.5</text>
<rect x="45.8" y="672.8" width="3.75" height="52.5" fill="#0a0a0a" stroke="#111" stroke-width="0.8"/>
<line x1="52.525" y1="678.312" x2="52.525" y2="676.475" stroke="#111" stroke-width="0.8"/>
<line x1="51.325" y1="676.475" x2="53.725" y2="676.475" stroke="#111" stroke-width="0.8"/>
<rect x="50.65" y="678.312" width="3.75" height="46.9875" fill="#1010c4" stroke="#111" stroke-width="0.8"/>
<line x1="57.375" y1="680.675" x2="57.375" y2="678.575" stroke="#111" stroke-width="0.8"/>
<line x1="56.175" y1="678.575" x2="58.575" y2="678.575" stroke="#111" stroke-width="0.8"/>
<rect x="55.5" y="680.675" width="3.75" height="44.625" fill="#d61a1a" stroke="#111" stroke-width="0.8"/>
<line x1="62.225" y1="681.2" x2="62.225" y2="679.1" stroke="#111" stroke-width="0.8"/>
<line x1="61.025" y1="679.1" x2="63.425" y2="679.1" stroke="#111" stroke-width="0.8"/>
<rect x="60.35" y="681.2" width="3.75" height="44.1" fill="#36d636" stroke="#111" stroke-width="0.8"/>
<line x1="54.95" y1="725.3" x2="54.95" y2="728.3" stroke="#111" stroke-width="1.1"/>
<text x="54.95" y="736.3" font-size="8" text-anchor="middle" fill="#0a0a0a">0.25</text>
<rect x="69.4" y="672.8" width="3.75" height="52.5" fill="#0a0a0a" stroke="#111" stroke-width="0.8"/>
<line x1="76.125" y1="680.675" x2="76.125" y2="679.625" stroke="#111" stroke-width="0.8"/>
<line x1="74.925" y1="679.625" x2="77.325" y2="679.625" stroke="#111" stroke-width="0.8"/>
<rect x="74.25" y="680.675" width="3.75" height="44.625" fill="#1010c4" stroke="#111" stroke-width="0.8"/>
<line x1="80.975" y1="682.04" x2="80.975" y2="679.94" stroke="#111" stroke-width="0.8"/>
<line x1="79.775" y1="679.94" x2="82.175" y2="679.94" stroke="#111" stroke-width="0.8"/>
<rect x="79.1" y="682.04" width="3.75" height="43.26" fill="#d61a1a" stroke="#111" stroke-width="0.8"/>
<line x1="85.825" y1="693.275" x2="85.825" y2="690.125" stroke="#111" stroke-width="0.8"/>
<line x1="84.625" y1="690.125" x2="87.025" y2="690.125" stroke="#111" stroke-width="0.8"/>
<rect x="83.95" y="693.275" width="3.75" height="32.025" fill="#36d636" stroke="#111" stroke-width="0.8"/>
<line x1="78.55" y1="725.3" x2="78.55" y2="728.3" stroke="#111" stroke-width="1.1"/>
<text x="78.55" y="736.3" font-size="8" text-anchor="middle" fill="#0a0a0a">0.5</text>
<rect x="93" y="672.8" width="3.75" height="52.5" fill="#0a0a0a" stroke="#111" stroke-width="0.8"/>
<line x1="99.725" y1="700.31" x2="99.725" y2="697.422" stroke="#111" stroke-width="0.8"/>
<line x1="98.525" y1="697.422" x2="100.925" y2="697.422" stroke="#111" stroke-width="0.8"/>
<rect x="97.85" y="700.31" width="3.75" height="24.99" fill="#1010c4" stroke="#111" stroke-width="0.8"/>
<line x1="104.575" y1="694.535" x2="104.575" y2="691.122" stroke="#111" stroke-width="0.8"/>
<line x1="103.375" y1="691.122" x2="105.775" y2="691.122" stroke="#111" stroke-width="0.8"/>
<rect x="102.7" y="694.535" width="3.75" height="30.765" fill="#d61a1a" stroke="#111" stroke-width="0.8"/>
<line x1="109.425" y1="712.175" x2="109.425" y2="710.6" stroke="#111" stroke-width="0.8"/>
<line x1="108.225" y1="710.6" x2="110.625" y2="710.6" stroke="#111" stroke-width="0.8"/>
<rect x="107.55" y="712.175" width="3.75" height="13.125" fill="#36d636" stroke="#111" stroke-width="0.8"/>
<line x1="102.15" y1="725.3" x2="102.15" y2="728.3" stroke="#111" stroke-width="1.1"/>
<text x="102.15" y="736.3" font-size="8" text-anchor="middle" fill="#0a0a0a">1</text>
<rect x="116.6" y="672.8" width="3.75" height="52.5" fill="#0a0a0a" stroke="#111" stroke-width="0.8"/>
<line x1="123.325" y1="715.85" x2="123.325" y2="714.8" stroke="#111" stroke-width="0.8"/>
<line x1="122.125" y1="714.8" x2="124.525" y2="714.8" stroke="#111" stroke-width="0.8"/>
<rect x="121.45" y="715.85" width="3.75" height="9.45" fill="#1010c4" stroke="#111" stroke-width="0.8"/>
<line x1="128.175" y1="710.285" x2="128.175" y2="709.497" stroke="#111" stroke-width="0.8"/>
<line x1="126.975" y1="709.497" x2="129.375" y2="709.497" stroke="#111" stroke-width="0.8"/>
<rect x="126.3" y="710.285" width="3.75" height="15.015" fill="#d61a1a" stroke="#111" stroke-width="0.8"/>
<line x1="133.025" y1="718.475" x2="133.025" y2="717.425" stroke="#111" stroke-width="0.8"/>
<line x1="131.825" y1="717.425" x2="134.225" y2="717.425" stroke="#111" stroke-width="0.8"/>
<rect x="131.15" y="718.475" width="3.75" height="6.825" fill="#36d636" stroke="#111" stroke-width="0.8"/>
<line x1="125.75" y1="725.3" x2="125.75" y2="728.3" stroke="#111" stroke-width="1.1"/>
<text x="125.75" y="736.3" font-size="8" text-anchor="middle" fill="#0a0a0a">2</text>
<rect x="140.2" y="672.8" width="3.75" height="52.5" fill="#0a0a0a" stroke="#111" stroke-width="0.8"/>
<line x1="146.925" y1="720.312" x2="146.925" y2="719.525" stroke="#111" stroke-width="0.8"/>
<line x1="145.725" y1="719.525" x2="148.125" y2="719.525" stroke="#111" stroke-width="0.8"/>
<rect x="145.05" y="720.312" width="3.75" height="4.9875" fill="#1010c4" stroke="#111" stroke-width="0.8"/>
<line x1="151.775" y1="712.175" x2="151.775" y2="707.975" stroke="#111" stroke-width="0.8"/>
<line x1="150.575" y1="707.975" x2="152.975" y2="707.975" stroke="#111" stroke-width="0.8"/>
<rect x="149.9" y="712.175" width="3.75" height="13.125" fill="#d61a1a" stroke="#111" stroke-width="0.8"/>
<line x1="156.625" y1="722.15" x2="156.625" y2="721.1" stroke="#111" stroke-width="0.8"/>
<line x1="155.425" y1="721.1" x2="157.825" y2="721.1" stroke="#111" stroke-width="0.8"/>
<rect x="154.75" y="722.15" width="3.75" height="3.15" fill="#36d636" stroke="#111" stroke-width="0.8"/>
<line x1="149.35" y1="725.3" x2="149.35" y2="728.3" stroke="#111" stroke-width="1.1"/>
<text x="149.35" y="736.3" font-size="8" text-anchor="middle" fill="#0a0a0a">4</text>
<text x="102" y="649" font-size="9.6" text-anchor="middle" fill="#0a0a0a">HN5</text>
<text x="91" y="746.4" font-size="8.8" fill="#111">x IC<tspan font-size="6.4" dy="2.2">50</tspan></text>
<text x="21.9" y="685.325" font-size="9.5" text-anchor="middle" fill="#0a0a0a" transform="rotate(-90 21.9 685.325)">Cell viability</text>
<rect x="179" y="649.6" width="9" height="5.6" fill="#0a0a0a" stroke="#111" stroke-width="0.7"/>
<text x="191.6" y="655.5" font-size="7.6" text-anchor="start" fill="#0a0a0a">Untreated</text>
<rect x="179" y="659.25" width="9" height="5.6" fill="#0c0ce0" stroke="#111" stroke-width="0.7"/>
<text x="193" y="665.15" font-size="7.6" text-anchor="start" fill="#0a0a0a">CCT</text>
<rect x="179" y="668.9" width="9" height="5.6" fill="#ec1216" stroke="#111" stroke-width="0.7"/>
<text x="193" y="674.8" font-size="7.6" text-anchor="start" fill="#0a0a0a">PTX</text>
<rect x="179" y="678.55" width="9" height="5.6" fill="#3fe03a" stroke="#111" stroke-width="0.7"/>
<text x="191.6" y="684.45" font-size="7.6" text-anchor="start" fill="#0a0a0a">Combined</text>
</g>
<g id="panelC">
<text x="234.2" y="265.8" font-size="12.4" font-weight="bold" text-anchor="start" fill="#0a0a0a">C</text>
<line x1="257.7" y1="277.9" x2="257.7" y2="347" stroke="#111" stroke-width="1.2"/>
<line x1="257.2" y1="346.5" x2="359.2" y2="346.5" stroke="#111" stroke-width="1.2"/>
<line x1="256.2" y1="339.667" x2="257.7" y2="339.667" stroke="#111" stroke-width="0.7"/>
<line x1="256.2" y1="335.669" x2="257.7" y2="335.669" stroke="#111" stroke-width="0.7"/>
<line x1="256.2" y1="332.833" x2="257.7" y2="332.833" stroke="#111" stroke-width="0.7"/>
<line x1="256.2" y1="330.633" x2="257.7" y2="330.633" stroke="#111" stroke-width="0.7"/>
<line x1="256.2" y1="328.836" x2="257.7" y2="328.836" stroke="#111" stroke-width="0.7"/>
<line x1="256.2" y1="327.316" x2="257.7" y2="327.316" stroke="#111" stroke-width="0.7"/>
<line x1="256.2" y1="326" x2="257.7" y2="326" stroke="#111" stroke-width="0.7"/>
<line x1="256.2" y1="324.839" x2="257.7" y2="324.839" stroke="#111" stroke-width="0.7"/>
<line x1="256.2" y1="316.967" x2="257.7" y2="316.967" stroke="#111" stroke-width="0.7"/>
<line x1="256.2" y1="312.969" x2="257.7" y2="312.969" stroke="#111" stroke-width="0.7"/>
<line x1="256.2" y1="310.133" x2="257.7" y2="310.133" stroke="#111" stroke-width="0.7"/>
<line x1="256.2" y1="307.933" x2="257.7" y2="307.933" stroke="#111" stroke-width="0.7"/>
<line x1="256.2" y1="306.136" x2="257.7" y2="306.136" stroke="#111" stroke-width="0.7"/>
<line x1="256.2" y1="304.616" x2="257.7" y2="304.616" stroke="#111" stroke-width="0.7"/>
<line x1="256.2" y1="303.3" x2="257.7" y2="303.3" stroke="#111" stroke-width="0.7"/>
<line x1="256.2" y1="302.139" x2="257.7" y2="302.139" stroke="#111" stroke-width="0.7"/>
<line x1="256.2" y1="294.267" x2="257.7" y2="294.267" stroke="#111" stroke-width="0.7"/>
<line x1="256.2" y1="290.269" x2="257.7" y2="290.269" stroke="#111" stroke-width="0.7"/>
<line x1="256.2" y1="287.433" x2="257.7" y2="287.433" stroke="#111" stroke-width="0.7"/>
<line x1="256.2" y1="285.233" x2="257.7" y2="285.233" stroke="#111" stroke-width="0.7"/>
<line x1="256.2" y1="283.436" x2="257.7" y2="283.436" stroke="#111" stroke-width="0.7"/>
<line x1="256.2" y1="281.916" x2="257.7" y2="281.916" stroke="#111" stroke-width="0.7"/>
<line x1="256.2" y1="280.6" x2="257.7" y2="280.6" stroke="#111" stroke-width="0.7"/>
<line x1="256.2" y1="279.439" x2="257.7" y2="279.439" stroke="#111" stroke-width="0.7"/>
<line x1="254.7" y1="346.5" x2="257.7" y2="346.5" stroke="#111" stroke-width="1"/>
<text x="254.5" y="349.1" font-size="7.1" text-anchor="end" fill="#0a0a0a">0.01</text>
<line x1="254.7" y1="323.8" x2="257.7" y2="323.8" stroke="#111" stroke-width="1"/>
<text x="254.5" y="326.4" font-size="7.1" text-anchor="end" fill="#0a0a0a">0.10</text>
<line x1="254.7" y1="301.1" x2="257.7" y2="301.1" stroke="#111" stroke-width="1"/>
<text x="254.5" y="303.7" font-size="7.1" text-anchor="end" fill="#0a0a0a">1</text>
<line x1="254.7" y1="278.4" x2="257.7" y2="278.4" stroke="#111" stroke-width="1"/>
<text x="254.5" y="281" font-size="7.1" text-anchor="end" fill="#0a0a0a">10</text>
<line x1="257.7" y1="346.5" x2="257.7" y2="349.5" stroke="#111" stroke-width="1"/>
<text x="257.7" y="356.1" font-size="7.2" text-anchor="middle" fill="#0a0a0a">0</text>
<line x1="277.9" y1="346.5" x2="277.9" y2="349.5" stroke="#111" stroke-width="1"/>
<text x="277.9" y="356.1" font-size="7.2" text-anchor="middle" fill="#0a0a0a">1</text>
<line x1="298.1" y1="346.5" x2="298.1" y2="349.5" stroke="#111" stroke-width="1"/>
<text x="298.1" y="356.1" font-size="7.2" text-anchor="middle" fill="#0a0a0a">2</text>
<line x1="318.3" y1="346.5" x2="318.3" y2="349.5" stroke="#111" stroke-width="1"/>
<text x="318.3" y="356.1" font-size="7.2" text-anchor="middle" fill="#0a0a0a">3</text>
<line x1="338.5" y1="346.5" x2="338.5" y2="349.5" stroke="#111" stroke-width="1"/>
<text x="338.5" y="356.1" font-size="7.2" text-anchor="middle" fill="#0a0a0a">4</text>
<line x1="358.7" y1="346.5" x2="358.7" y2="349.5" stroke="#111" stroke-width="1"/>
<text x="358.7" y="356.1" font-size="7.2" text-anchor="middle" fill="#0a0a0a">5</text>
<text x="309.21" y="366.5" font-size="7.6" text-anchor="middle" fill="#0a0a0a">Gy</text>
<text x="308.2" y="273.5" font-size="8.6" text-anchor="middle" fill="#0a0a0a">HN4</text>
<polyline points="257.7,301.1 277.9,302.1 298.1,303.9 338.5,312.0" fill="none" stroke="#111" stroke-width="1.25"/>
<circle cx="277.9" cy="302.139" r="1.6" fill="#111"/>
<circle cx="298.1" cy="303.936" r="1.6" fill="#111"/>
<circle cx="338.5" cy="312.03" r="1.6" fill="#111"/>
<polyline points="257.7,301.1 277.9,302.4 298.1,304.6 338.5,317.7" fill="none" stroke="#111" stroke-width="1.25"/>
<rect x="276.3" y="300.76" width="3.2" height="3.2" fill="#111"/>
<rect x="296.5" y="303.016" width="3.2" height="3.2" fill="#111"/>
<rect x="336.9" y="316.135" width="3.2" height="3.2" fill="#111"/>
<polyline points="257.7,301.1 277.9,306.1 298.1,309.2 338.5,320.8" fill="none" stroke="#111" stroke-width="1.25"/>
<polygon points="277.9,304.216 276.14,307.576 279.66,307.576" fill="#111"/>
<polygon points="298.1,307.274 296.34,310.634 299.86,310.634" fill="#111"/>
<polygon points="338.5,318.849 336.74,322.209 340.26,322.209" fill="#111"/>
<text x="278.91" y="300.2" font-size="9.2" font-weight="bold" text-anchor="middle" fill="#0a0a0a" letter-spacing="0.2">****</text>
<text x="299.11" y="301.8" font-size="9.2" font-weight="bold" text-anchor="middle" fill="#0a0a0a" letter-spacing="0.2">****</text>
<text x="339.51" y="310" font-size="9.2" font-weight="bold" text-anchor="middle" fill="#0a0a0a" letter-spacing="0.2">***</text>
<text x="236.1" y="317" font-size="7.8" text-anchor="middle" fill="#0a0a0a" transform="rotate(-90 236.1 317)">SF</text>
<line x1="385.6" y1="277.9" x2="385.6" y2="347" stroke="#111" stroke-width="1.2"/>
<line x1="385.1" y1="346.5" x2="487.1" y2="346.5" stroke="#111" stroke-width="1.2"/>
<line x1="384.1" y1="339.667" x2="385.6" y2="339.667" stroke="#111" stroke-width="0.7"/>
<line x1="384.1" y1="335.669" x2="385.6" y2="335.669" stroke="#111" stroke-width="0.7"/>
<line x1="384.1" y1="332.833" x2="385.6" y2="332.833" stroke="#111" stroke-width="0.7"/>
<line x1="384.1" y1="330.633" x2="385.6" y2="330.633" stroke="#111" stroke-width="0.7"/>
<line x1="384.1" y1="328.836" x2="385.6" y2="328.836" stroke="#111" stroke-width="0.7"/>
<line x1="384.1" y1="327.316" x2="385.6" y2="327.316" stroke="#111" stroke-width="0.7"/>
<line x1="384.1" y1="326" x2="385.6" y2="326" stroke="#111" stroke-width="0.7"/>
<line x1="384.1" y1="324.839" x2="385.6" y2="324.839" stroke="#111" stroke-width="0.7"/>
<line x1="384.1" y1="316.967" x2="385.6" y2="316.967" stroke="#111" stroke-width="0.7"/>
<line x1="384.1" y1="312.969" x2="385.6" y2="312.969" stroke="#111" stroke-width="0.7"/>
<line x1="384.1" y1="310.133" x2="385.6" y2="310.133" stroke="#111" stroke-width="0.7"/>
<line x1="384.1" y1="307.933" x2="385.6" y2="307.933" stroke="#111" stroke-width="0.7"/>
<line x1="384.1" y1="306.136" x2="385.6" y2="306.136" stroke="#111" stroke-width="0.7"/>
<line x1="384.1" y1="304.616" x2="385.6" y2="304.616" stroke="#111" stroke-width="0.7"/>
<line x1="384.1" y1="303.3" x2="385.6" y2="303.3" stroke="#111" stroke-width="0.7"/>
<line x1="384.1" y1="302.139" x2="385.6" y2="302.139" stroke="#111" stroke-width="0.7"/>
<line x1="384.1" y1="294.267" x2="385.6" y2="294.267" stroke="#111" stroke-width="0.7"/>
<line x1="384.1" y1="290.269" x2="385.6" y2="290.269" stroke="#111" stroke-width="0.7"/>
<line x1="384.1" y1="287.433" x2="385.6" y2="287.433" stroke="#111" stroke-width="0.7"/>
<line x1="384.1" y1="285.233" x2="385.6" y2="285.233" stroke="#111" stroke-width="0.7"/>
<line x1="384.1" y1="283.436" x2="385.6" y2="283.436" stroke="#111" stroke-width="0.7"/>
<line x1="384.1" y1="281.916" x2="385.6" y2="281.916" stroke="#111" stroke-width="0.7"/>
<line x1="384.1" y1="280.6" x2="385.6" y2="280.6" stroke="#111" stroke-width="0.7"/>
<line x1="384.1" y1="279.439" x2="385.6" y2="279.439" stroke="#111" stroke-width="0.7"/>
<line x1="382.6" y1="346.5" x2="385.6" y2="346.5" stroke="#111" stroke-width="1"/>
<text x="382.4" y="349.1" font-size="7.1" text-anchor="end" fill="#0a0a0a">0.01</text>
<line x1="382.6" y1="323.8" x2="385.6" y2="323.8" stroke="#111" stroke-width="1"/>
<text x="382.4" y="326.4" font-size="7.1" text-anchor="end" fill="#0a0a0a">0.10</text>
<line x1="382.6" y1="301.1" x2="385.6" y2="301.1" stroke="#111" stroke-width="1"/>
<text x="382.4" y="303.7" font-size="7.1" text-anchor="end" fill="#0a0a0a">1</text>
<line x1="382.6" y1="278.4" x2="385.6" y2="278.4" stroke="#111" stroke-width="1"/>
<text x="382.4" y="281" font-size="7.1" text-anchor="end" fill="#0a0a0a">10</text>
<line x1="385.6" y1="346.5" x2="385.6" y2="349.5" stroke="#111" stroke-width="1"/>
<text x="385.6" y="356.1" font-size="7.2" text-anchor="middle" fill="#0a0a0a">0</text>
<line x1="405.8" y1="346.5" x2="405.8" y2="349.5" stroke="#111" stroke-width="1"/>
<text x="405.8" y="356.1" font-size="7.2" text-anchor="middle" fill="#0a0a0a">1</text>
<line x1="426" y1="346.5" x2="426" y2="349.5" stroke="#111" stroke-width="1"/>
<text x="426" y="356.1" font-size="7.2" text-anchor="middle" fill="#0a0a0a">2</text>
<line x1="446.2" y1="346.5" x2="446.2" y2="349.5" stroke="#111" stroke-width="1"/>
<text x="446.2" y="356.1" font-size="7.2" text-anchor="middle" fill="#0a0a0a">3</text>
<line x1="466.4" y1="346.5" x2="466.4" y2="349.5" stroke="#111" stroke-width="1"/>
<text x="466.4" y="356.1" font-size="7.2" text-anchor="middle" fill="#0a0a0a">4</text>
<line x1="486.6" y1="346.5" x2="486.6" y2="349.5" stroke="#111" stroke-width="1"/>
<text x="486.6" y="356.1" font-size="7.2" text-anchor="middle" fill="#0a0a0a">5</text>
<text x="437.11" y="366.5" font-size="7.6" text-anchor="middle" fill="#0a0a0a">Gy</text>
<text x="436.1" y="273.5" font-size="8.6" text-anchor="middle" fill="#0a0a0a">HN5</text>
<polyline points="385.6,301.1 405.8,302.4 426.0,303.1 466.4,305.5" fill="none" stroke="#111" stroke-width="1.25"/>
<circle cx="405.8" cy="302.36" r="1.6" fill="#111"/>
<line x1="426" y1="301.679" x2="426" y2="304.434" stroke="#111" stroke-width="0.8"/>
<line x1="424.5" y1="301.679" x2="427.5" y2="301.679" stroke="#111" stroke-width="0.8"/>
<line x1="424.5" y1="304.434" x2="427.5" y2="304.434" stroke="#111" stroke-width="0.8"/>
<circle cx="426" cy="303.056" r="1.6" fill="#111"/>
<circle cx="466.4" cy="305.5" r="1.6" fill="#111"/>
<polyline points="385.6,301.1 405.8,303.3 426.0,306.1 466.4,313.6" fill="none" stroke="#111" stroke-width="1.25"/>
<line x1="405.8" y1="302.36" x2="405.8" y2="304.239" stroke="#111" stroke-width="0.8"/>
<line x1="404.3" y1="302.36" x2="407.3" y2="302.36" stroke="#111" stroke-width="0.8"/>
<line x1="404.3" y1="304.239" x2="407.3" y2="304.239" stroke="#111" stroke-width="0.8"/>
<rect x="404.2" y="301.7" width="3.2" height="3.2" fill="#111"/>
<line x1="426" y1="305.196" x2="426" y2="307.076" stroke="#111" stroke-width="0.8"/>
<line x1="424.5" y1="305.196" x2="427.5" y2="305.196" stroke="#111" stroke-width="0.8"/>
<line x1="424.5" y1="307.076" x2="427.5" y2="307.076" stroke="#111" stroke-width="0.8"/>
<rect x="424.4" y="304.536" width="3.2" height="3.2" fill="#111"/>
<line x1="466.4" y1="312.71" x2="466.4" y2="314.589" stroke="#111" stroke-width="0.8"/>
<line x1="464.9" y1="312.71" x2="467.9" y2="312.71" stroke="#111" stroke-width="0.8"/>
<line x1="464.9" y1="314.589" x2="467.9" y2="314.589" stroke="#111" stroke-width="0.8"/>
<rect x="464.8" y="312.05" width="3.2" height="3.2" fill="#111"/>
<polyline points="385.6,301.1 405.8,304.9 426.0,314.8 466.4,324.5" fill="none" stroke="#111" stroke-width="1.25"/>
<polygon points="405.8,302.982 404.04,306.342 407.56,306.342" fill="#111"/>
<polygon points="426,312.847 424.24,316.207 427.76,316.207" fill="#111"/>
<line x1="466.4" y1="322.316" x2="466.4" y2="326.715" stroke="#111" stroke-width="0.8"/>
<line x1="464.9" y1="322.316" x2="467.9" y2="322.316" stroke="#111" stroke-width="0.8"/>
<line x1="464.9" y1="326.715" x2="467.9" y2="326.715" stroke="#111" stroke-width="0.8"/>
<polygon points="466.4,322.595 464.64,325.955 468.16,325.955" fill="#111"/>
<text x="404.79" y="300.2" font-size="9.2" font-weight="bold" text-anchor="middle" fill="#0a0a0a" letter-spacing="0.2">**</text>
<text x="426" y="300.5" font-size="9.2" font-weight="bold" text-anchor="middle" fill="#0a0a0a" letter-spacing="0.2">****</text>
<text x="467.41" y="302.5" font-size="9.2" font-weight="bold" text-anchor="middle" fill="#0a0a0a" letter-spacing="0.2">****</text>
<line x1="473.2" y1="272.2" x2="479.6" y2="272.2" stroke="#111" stroke-width="1"/>
<circle cx="476.4" cy="272.2" r="1.2" fill="#111"/>
<text x="480.6" y="274.7" font-size="7" text-anchor="start" fill="#0a0a0a">0 µmol/L</text>
<line x1="473.2" y1="280.2" x2="479.6" y2="280.2" stroke="#111" stroke-width="1"/>
<rect x="475.2" y="279" width="2.4" height="2.4" fill="#111"/>
<text x="480.6" y="282.7" font-size="7" text-anchor="start" fill="#0a0a0a">0.2 µmol/L</text>
<line x1="473.2" y1="288.2" x2="479.6" y2="288.2" stroke="#111" stroke-width="1"/>
<polygon points="476.4,286.76 475.08,289.28 477.72,289.28" fill="#111"/>
<text x="480.6" y="290.7" font-size="7" text-anchor="start" fill="#0a0a0a">0.7 µmol/L</text>
</g>
<g id="panelG">
<text x="232.8" y="600.4" font-size="12.4" font-weight="bold" text-anchor="start" fill="#0a0a0a">G</text>
<line x1="267.8" y1="610.5" x2="267.8" y2="679.5" stroke="#111" stroke-width="1.2"/>
<line x1="267.3" y1="679" x2="369.8" y2="679" stroke="#111" stroke-width="1.2"/>
<line x1="267.8" y1="644.5" x2="370.1" y2="644.5" stroke="#9a9a9a" stroke-width="0.9"/>
<line x1="264.8" y1="621.9" x2="267.8" y2="621.9" stroke="#111" stroke-width="1"/>
<text x="264" y="624.4" font-size="6.8" text-anchor="end" fill="#0a0a0a">0.2</text>
<line x1="264.8" y1="644.5" x2="267.8" y2="644.5" stroke="#111" stroke-width="1"/>
<text x="264" y="647" font-size="6.8" text-anchor="end" fill="#0a0a0a">0.0</text>
<line x1="264.8" y1="667.1" x2="267.8" y2="667.1" stroke="#111" stroke-width="1"/>
<text x="264" y="669.6" font-size="6.8" text-anchor="end" fill="#0a0a0a">−0.2</text>
<line x1="267.8" y1="679" x2="267.8" y2="682" stroke="#111" stroke-width="1"/>
<line x1="288.1" y1="679" x2="288.1" y2="682" stroke="#111" stroke-width="1"/>
<text x="288.1" y="689.3" font-size="6.8" text-anchor="middle" fill="#0a0a0a">1</text>
<line x1="308.4" y1="679" x2="308.4" y2="682" stroke="#111" stroke-width="1"/>
<text x="308.4" y="689.3" font-size="6.8" text-anchor="middle" fill="#0a0a0a">2</text>
<line x1="328.7" y1="679" x2="328.7" y2="682" stroke="#111" stroke-width="1"/>
<text x="328.7" y="689.3" font-size="6.8" text-anchor="middle" fill="#0a0a0a">3</text>
<line x1="349" y1="679" x2="349" y2="682" stroke="#111" stroke-width="1"/>
<text x="349" y="689.3" font-size="6.8" text-anchor="middle" fill="#0a0a0a">4</text>
<line x1="369.3" y1="679" x2="369.3" y2="682" stroke="#111" stroke-width="1"/>
<text x="369.3" y="689.3" font-size="6.8" text-anchor="middle" fill="#0a0a0a">5</text>
<text x="309.415" y="698.5" font-size="7.4" fill="#111">x IC<tspan font-size="5.4" dy="1.8">50</tspan></text>
<text x="319.159" y="616" font-size="8.6" text-anchor="middle" fill="#0a0a0a">HN4</text>
<line x1="272.875" y1="633.426" x2="272.875" y2="650.715" stroke="#111" stroke-width="1"/>
<line x1="271.175" y1="633.426" x2="274.575" y2="633.426" stroke="#111" stroke-width="1"/>
<line x1="271.175" y1="650.715" x2="274.575" y2="650.715" stroke="#111" stroke-width="1"/>
<circle cx="272.875" cy="642.24" r="1.6" fill="#111"/>
<line x1="277.95" y1="652.749" x2="277.95" y2="664.501" stroke="#111" stroke-width="1"/>
<line x1="276.25" y1="652.749" x2="279.65" y2="652.749" stroke="#111" stroke-width="1"/>
<line x1="276.25" y1="664.501" x2="279.65" y2="664.501" stroke="#111" stroke-width="1"/>
<circle cx="277.95" cy="658.625" r="1.6" fill="#111"/>
<line x1="288.1" y1="647.89" x2="288.1" y2="660.207" stroke="#111" stroke-width="1"/>
<line x1="286.4" y1="647.89" x2="289.8" y2="647.89" stroke="#111" stroke-width="1"/>
<line x1="286.4" y1="660.207" x2="289.8" y2="660.207" stroke="#111" stroke-width="1"/>
<circle cx="288.1" cy="654.105" r="1.6" fill="#111"/>
<line x1="308.4" y1="655.461" x2="308.4" y2="669.021" stroke="#111" stroke-width="1"/>
<line x1="306.7" y1="655.461" x2="310.1" y2="655.461" stroke="#111" stroke-width="1"/>
<line x1="306.7" y1="669.021" x2="310.1" y2="669.021" stroke="#111" stroke-width="1"/>
<circle cx="308.4" cy="662.241" r="1.6" fill="#111"/>
<line x1="349" y1="652.41" x2="349" y2="664.275" stroke="#111" stroke-width="1"/>
<line x1="347.3" y1="652.41" x2="350.7" y2="652.41" stroke="#111" stroke-width="1"/>
<line x1="347.3" y1="664.275" x2="350.7" y2="664.275" stroke="#111" stroke-width="1"/>
<circle cx="349" cy="658.286" r="1.6" fill="#111"/>
<text x="249.6" y="645" font-size="7.6" text-anchor="middle" fill="#0a0a0a" transform="rotate(-90 249.6 645)">ΔE</text>
<line x1="396.9" y1="610.5" x2="396.9" y2="679.5" stroke="#111" stroke-width="1.2"/>
<line x1="396.4" y1="679" x2="498.9" y2="679" stroke="#111" stroke-width="1.2"/>
<line x1="396.9" y1="644.5" x2="499.2" y2="644.5" stroke="#9a9a9a" stroke-width="0.9"/>
<line x1="393.9" y1="621.9" x2="396.9" y2="621.9" stroke="#111" stroke-width="1"/>
<text x="393.1" y="624.4" font-size="6.8" text-anchor="end" fill="#0a0a0a">0.2</text>
<line x1="393.9" y1="644.5" x2="396.9" y2="644.5" stroke="#111" stroke-width="1"/>
<text x="393.1" y="647" font-size="6.8" text-anchor="end" fill="#0a0a0a">0.0</text>
<line x1="393.9" y1="667.1" x2="396.9" y2="667.1" stroke="#111" stroke-width="1"/>
<text x="393.1" y="669.6" font-size="6.8" text-anchor="end" fill="#0a0a0a">−0.2</text>
<line x1="396.9" y1="679" x2="396.9" y2="682" stroke="#111" stroke-width="1"/>
<text x="396.9" y="689.3" font-size="6.8" text-anchor="middle" fill="#0a0a0a">0</text>
<line x1="417.2" y1="679" x2="417.2" y2="682" stroke="#111" stroke-width="1"/>
<text x="417.2" y="689.3" font-size="6.8" text-anchor="middle" fill="#0a0a0a">1</text>
<line x1="437.5" y1="679" x2="437.5" y2="682" stroke="#111" stroke-width="1"/>
<text x="437.5" y="689.3" font-size="6.8" text-anchor="middle" fill="#0a0a0a">2</text>
<line x1="457.8" y1="679" x2="457.8" y2="682" stroke="#111" stroke-width="1"/>
<text x="457.8" y="689.3" font-size="6.8" text-anchor="middle" fill="#0a0a0a">3</text>
<line x1="478.1" y1="679" x2="478.1" y2="682" stroke="#111" stroke-width="1"/>
<text x="478.1" y="689.3" font-size="6.8" text-anchor="middle" fill="#0a0a0a">4</text>
<line x1="498.4" y1="679" x2="498.4" y2="682" stroke="#111" stroke-width="1"/>
<text x="498.4" y="689.3" font-size="6.8" text-anchor="middle" fill="#0a0a0a">5</text>
<text x="438.515" y="698.5" font-size="7.4" fill="#111">x IC<tspan font-size="5.4" dy="1.8">50</tspan></text>
<text x="448.259" y="616" font-size="8.6" text-anchor="middle" fill="#0a0a0a">HN5</text>
<line x1="401.975" y1="643.822" x2="401.975" y2="660.207" stroke="#111" stroke-width="1"/>
<line x1="400.275" y1="643.822" x2="403.675" y2="643.822" stroke="#111" stroke-width="1"/>
<line x1="400.275" y1="660.207" x2="403.675" y2="660.207" stroke="#111" stroke-width="1"/>
<circle cx="401.975" cy="651.506" r="1.6" fill="#111"/>
<line x1="407.05" y1="627.211" x2="407.05" y2="641.11" stroke="#111" stroke-width="1"/>
<line x1="405.35" y1="627.211" x2="408.75" y2="627.211" stroke="#111" stroke-width="1"/>
<line x1="405.35" y1="641.11" x2="408.75" y2="641.11" stroke="#111" stroke-width="1"/>
<circle cx="407.05" cy="634.669" r="1.6" fill="#111"/>
<line x1="417.2" y1="635.234" x2="417.2" y2="646.308" stroke="#111" stroke-width="1"/>
<line x1="415.5" y1="635.234" x2="418.9" y2="635.234" stroke="#111" stroke-width="1"/>
<line x1="415.5" y1="646.308" x2="418.9" y2="646.308" stroke="#111" stroke-width="1"/>
<circle cx="417.2" cy="640.771" r="1.6" fill="#111"/>
<line x1="437.5" y1="649.02" x2="437.5" y2="655.8" stroke="#111" stroke-width="1"/>
<line x1="435.8" y1="649.02" x2="439.2" y2="649.02" stroke="#111" stroke-width="1"/>
<line x1="435.8" y1="655.8" x2="439.2" y2="655.8" stroke="#111" stroke-width="1"/>
<circle cx="437.5" cy="652.41" r="1.6" fill="#111"/>
<circle cx="478.1" cy="650.715" r="1.6" fill="#111"/>
</g>
<g id="panelB">
<text x="233.6" y="12.6" font-size="12" font-weight="bold" text-anchor="start" fill="#0a0a0a">B</text>
<text x="325.6" y="26.3" font-size="9.9" text-anchor="end" fill="#0a0a0a" textLength="83.6" lengthAdjust="spacingAndGlyphs">Time post-RT (hrs) :</text>
<text x="325.3" y="40.9" font-size="9.7" text-anchor="end" fill="#0a0a0a">CCT:</text>
<text x="340.3" y="26.6" font-size="10" text-anchor="middle" fill="#0a0a0a">0</text>
<line x1="329.2" y1="30.2" x2="351.3" y2="30.2" stroke="#111" stroke-width="1"/>
<text x="333.8" y="42" font-size="10.5" font-weight="bold" text-anchor="middle" fill="#0a0a0a">−</text>
<text x="347.25" y="42.8" font-size="12.5" font-weight="bold" text-anchor="middle" fill="#0a0a0a">+</text>
<text x="368" y="26.6" font-size="10" text-anchor="middle" fill="#0a0a0a">4</text>
<line x1="356" y1="30.2" x2="378.7" y2="30.2" stroke="#111" stroke-width="1"/>
<text x="360.7" y="42" font-size="10.5" font-weight="bold" text-anchor="middle" fill="#0a0a0a">−</text>
<text x="374.15" y="42.8" font-size="12.5" font-weight="bold" text-anchor="middle" fill="#0a0a0a">+</text>
<text x="395.9" y="26.6" font-size="10" text-anchor="middle" fill="#0a0a0a">8</text>
<line x1="383.5" y1="30.2" x2="405.6" y2="30.2" stroke="#111" stroke-width="1"/>
<text x="387.6" y="42" font-size="10.5" font-weight="bold" text-anchor="middle" fill="#0a0a0a">−</text>
<text x="401.05" y="42.8" font-size="12.5" font-weight="bold" text-anchor="middle" fill="#0a0a0a">+</text>
<text x="421.3" y="26.6" font-size="10" text-anchor="middle" fill="#0a0a0a">12</text>
<line x1="410.8" y1="30.2" x2="432.7" y2="30.2" stroke="#111" stroke-width="1"/>
<text x="414.5" y="42" font-size="10.5" font-weight="bold" text-anchor="middle" fill="#0a0a0a">−</text>
<text x="427.95" y="42.8" font-size="12.5" font-weight="bold" text-anchor="middle" fill="#0a0a0a">+</text>
<text x="448.8" y="26.6" font-size="10" text-anchor="middle" fill="#0a0a0a">24</text>
<line x1="437.3" y1="30.2" x2="459.2" y2="30.2" stroke="#111" stroke-width="1"/>
<text x="441.4" y="42" font-size="10.5" font-weight="bold" text-anchor="middle" fill="#0a0a0a">−</text>
<text x="454.85" y="42.8" font-size="12.5" font-weight="bold" text-anchor="middle" fill="#0a0a0a">+</text>
<text x="474.3" y="26.6" font-size="10" text-anchor="middle" fill="#0a0a0a">48</text>
<line x1="462.7" y1="30.2" x2="485.1" y2="30.2" stroke="#111" stroke-width="1"/>
<text x="468.3" y="42" font-size="10.5" font-weight="bold" text-anchor="middle" fill="#0a0a0a">−</text>
<text x="481.75" y="42.8" font-size="12.5" font-weight="bold" text-anchor="middle" fill="#0a0a0a">+</text>
<clipPath id="c327_44"><rect x="327" y="44.8" width="160.8" height="16"/></clipPath>
<rect x="327" y="44.8" width="160.8" height="16" fill="#cbcbcb"/>
<g clip-path="url(#c327_44)"><g filter="url(#bl2)">
<rect x="341.0" y="50.5" width="12.5" height="6.0" rx="2" fill="#222" opacity="0.12"/>
<rect x="355.7" y="50.7" width="10.0" height="5.6" rx="2" fill="#222" opacity="0.02"/>
<rect x="367.6" y="50.4" width="13.0" height="6.2" rx="2" fill="#222" opacity="0.15"/>
<rect x="382.6" y="50.9" width="10.0" height="5.2" rx="2" fill="#222" opacity="0.05"/>
<rect x="395.6" y="50.8" width="11.0" height="5.4" rx="2" fill="#222" opacity="0.09"/>
<rect x="409.5" y="50.7" width="10.0" height="5.6" rx="2" fill="#222" opacity="0.07"/>
<rect x="421.2" y="50.3" width="13.5" height="6.4" rx="2" fill="#222" opacity="0.18"/>
<rect x="449.4" y="50.9" width="11.0" height="5.2" rx="2" fill="#222" opacity="0.07"/>
<rect x="482.3" y="46.0" width="7.0" height="11.6" rx="2" fill="#222" opacity="0.02"/>
<rect x="328.8" y="50.7" width="10.0" height="5.6" rx="2" fill="#222" opacity="0.02"/>
<rect x="416.9" y="46.0" width="6.0" height="11.6" rx="2" fill="#222" opacity="0.04"/>
</g><g filter="url(#bl)">
<rect x="342.5" y="51.8" width="9.5" height="3.4" rx="1.7" fill="#161616" opacity="0.52"/>
<rect x="357.2" y="52.0" width="7.0" height="3.0" rx="1.5" fill="#161616" opacity="0.10"/>
<rect x="369.1" y="51.7" width="10.0" height="3.6" rx="1.8" fill="#161616" opacity="0.64"/>
<rect x="384.1" y="52.2" width="7.0" height="2.6" rx="1.3" fill="#161616" opacity="0.22"/>
<rect x="397.1" y="52.1" width="8.0" height="2.8" rx="1.4" fill="#161616" opacity="0.36"/>
<rect x="411.0" y="52.0" width="7.0" height="3.0" rx="1.5" fill="#161616" opacity="0.30"/>
<rect x="422.7" y="51.6" width="10.5" height="3.8" rx="1.8" fill="#161616" opacity="0.76"/>
<rect x="450.9" y="52.2" width="8.0" height="2.6" rx="1.3" fill="#161616" opacity="0.30"/>
<rect x="483.8" y="47.3" width="4.0" height="9.0" rx="1.8" fill="#161616" opacity="0.10"/>
<rect x="330.3" y="52.0" width="7.0" height="3.0" rx="1.5" fill="#161616" opacity="0.08"/>
<rect x="418.4" y="47.3" width="3.0" height="9.0" rx="1.8" fill="#161616" opacity="0.15"/>
</g></g>
<clipPath id="c327_64"><rect x="327" y="64.4" width="160.8" height="16"/></clipPath>
<rect x="327" y="64.4" width="160.8" height="16" fill="#bebebe"/>
<g clip-path="url(#c327_64)"><g filter="url(#bl2)">
<rect x="326.8" y="70.7" width="14.0" height="6.1" rx="2" fill="#222" opacity="0.21"/>
<rect x="340.2" y="70.7" width="14.0" height="6.1" rx="2" fill="#222" opacity="0.21"/>
<rect x="353.7" y="70.7" width="14.0" height="6.1" rx="2" fill="#222" opacity="0.21"/>
<rect x="367.1" y="70.7" width="14.0" height="6.1" rx="2" fill="#222" opacity="0.21"/>
<rect x="380.6" y="70.7" width="14.0" height="6.1" rx="2" fill="#222" opacity="0.21"/>
<rect x="394.1" y="70.7" width="14.0" height="6.1" rx="2" fill="#222" opacity="0.21"/>
<rect x="407.5" y="70.7" width="14.0" height="6.1" rx="2" fill="#222" opacity="0.21"/>
<rect x="420.9" y="70.7" width="14.0" height="6.1" rx="2" fill="#222" opacity="0.21"/>
<rect x="434.4" y="70.7" width="14.0" height="6.1" rx="2" fill="#222" opacity="0.21"/>
<rect x="448.1" y="71.7" width="13.5" height="6.2" rx="2" fill="#222" opacity="0.21"/>
<rect x="461.6" y="72.3" width="13.5" height="6.2" rx="2" fill="#222" opacity="0.20"/>
<rect x="475.8" y="73.1" width="12.0" height="5.8" rx="2" fill="#222" opacity="0.14"/>
<rect x="326.3" y="71.7" width="163.0" height="4.2" rx="2" fill="#222" opacity="0.06"/>
</g><g filter="url(#bl)">
<rect x="328.3" y="72.0" width="11.0" height="3.5" rx="1.8" fill="#161616" opacity="0.88"/>
<rect x="341.8" y="72.0" width="11.0" height="3.5" rx="1.8" fill="#161616" opacity="0.88"/>
<rect x="355.2" y="72.0" width="11.0" height="3.5" rx="1.8" fill="#161616" opacity="0.88"/>
<rect x="368.6" y="72.0" width="11.0" height="3.5" rx="1.8" fill="#161616" opacity="0.88"/>
<rect x="382.1" y="72.0" width="11.0" height="3.5" rx="1.8" fill="#161616" opacity="0.88"/>
<rect x="395.6" y="72.0" width="11.0" height="3.5" rx="1.8" fill="#161616" opacity="0.88"/>
<rect x="409.0" y="72.0" width="11.0" height="3.5" rx="1.8" fill="#161616" opacity="0.88"/>
<rect x="422.4" y="72.0" width="11.0" height="3.5" rx="1.8" fill="#161616" opacity="0.88"/>
<rect x="435.9" y="72.0" width="11.0" height="3.5" rx="1.8" fill="#161616" opacity="0.88"/>
<rect x="449.6" y="73.0" width="10.5" height="3.6" rx="1.8" fill="#161616" opacity="0.88"/>
<rect x="463.1" y="73.6" width="10.5" height="3.6" rx="1.8" fill="#161616" opacity="0.85"/>
<rect x="477.2" y="74.4" width="9.0" height="3.2" rx="1.6" fill="#161616" opacity="0.60"/>
<rect x="327.8" y="73.0" width="160.0" height="1.6" rx="0.8" fill="#161616" opacity="0.25"/>
</g></g>
<clipPath id="c327_84"><rect x="327" y="84.2" width="160.8" height="16.2"/></clipPath>
<rect x="327" y="84.2" width="160.8" height="16.2" fill="#c8c8c8"/>
<g clip-path="url(#c327_84)"><g filter="url(#bl2)">
<rect x="326.8" y="90.8" width="14.0" height="6.6" rx="2" fill="#222" opacity="0.20"/>
<rect x="341.2" y="90.2" width="12.0" height="5.4" rx="2" fill="#222" opacity="0.12"/>
<rect x="355.2" y="90.4" width="11.0" height="5.0" rx="2" fill="#222" opacity="0.07"/>
<rect x="368.1" y="89.9" width="12.0" height="5.4" rx="2" fill="#222" opacity="0.12"/>
<rect x="381.6" y="89.6" width="12.0" height="5.4" rx="2" fill="#222" opacity="0.12"/>
<rect x="394.3" y="88.6" width="13.5" height="5.8" rx="2" fill="#222" opacity="0.18"/>
<rect x="407.8" y="88.2" width="13.5" height="6.0" rx="2" fill="#222" opacity="0.19"/>
<rect x="421.4" y="88.1" width="13.0" height="5.8" rx="2" fill="#222" opacity="0.17"/>
<rect x="435.9" y="87.9" width="11.0" height="5.2" rx="2" fill="#222" opacity="0.10"/>
<rect x="449.4" y="88.1" width="11.0" height="5.2" rx="2" fill="#222" opacity="0.08"/>
<rect x="462.3" y="87.9" width="12.0" height="5.2" rx="2" fill="#222" opacity="0.11"/>
<rect x="476.2" y="89.5" width="11.0" height="5.6" rx="2" fill="#222" opacity="0.02"/>
</g><g filter="url(#bl)">
<rect x="328.3" y="92.1" width="11.0" height="4.0" rx="1.8" fill="#161616" opacity="0.85"/>
<rect x="342.8" y="91.5" width="9.0" height="2.8" rx="1.4" fill="#161616" opacity="0.50"/>
<rect x="356.7" y="91.7" width="8.0" height="2.4" rx="1.2" fill="#161616" opacity="0.30"/>
<rect x="369.6" y="91.2" width="9.0" height="2.8" rx="1.4" fill="#161616" opacity="0.50"/>
<rect x="383.1" y="90.9" width="9.0" height="2.8" rx="1.4" fill="#161616" opacity="0.50"/>
<rect x="395.8" y="89.9" width="10.5" height="3.2" rx="1.6" fill="#161616" opacity="0.75"/>
<rect x="409.2" y="89.5" width="10.5" height="3.4" rx="1.7" fill="#161616" opacity="0.80"/>
<rect x="422.9" y="89.4" width="10.0" height="3.2" rx="1.6" fill="#161616" opacity="0.72"/>
<rect x="437.4" y="89.2" width="8.0" height="2.6" rx="1.3" fill="#161616" opacity="0.42"/>
<rect x="450.9" y="89.4" width="8.0" height="2.6" rx="1.3" fill="#161616" opacity="0.35"/>
<rect x="463.8" y="89.2" width="9.0" height="2.6" rx="1.3" fill="#161616" opacity="0.46"/>
<rect x="477.8" y="90.8" width="8.0" height="3.0" rx="1.5" fill="#161616" opacity="0.08"/>
</g></g>
<clipPath id="c327_102"><rect x="327" y="102.8" width="160.8" height="16.8"/></clipPath>
<rect x="327" y="102.8" width="160.8" height="16.8" fill="#cecece"/>
<g clip-path="url(#c327_102)"><g filter="url(#bl2)">
<rect x="409.5" y="108.9" width="10.0" height="4.6" rx="2" fill="#222" opacity="0.04"/>
<rect x="421.7" y="108.4" width="12.5" height="5.6" rx="2" fill="#222" opacity="0.17"/>
<rect x="442.6" y="107.8" width="16.5" height="6.4" rx="2" fill="#222" opacity="0.20"/>
<rect x="457.1" y="109.2" width="13.0" height="5.0" rx="2" fill="#222" opacity="0.12"/>
<rect x="468.0" y="107.5" width="20.3" height="8.0" rx="2" fill="#222" opacity="0.23"/>
<rect x="396.6" y="108.4" width="9.0" height="4.6" rx="2" fill="#222" opacity="0.02"/>
<rect x="344.2" y="111.9" width="6.0" height="4.6" rx="2" fill="#222" opacity="0.04"/>
<rect x="359.9" y="110.4" width="7.0" height="4.6" rx="2" fill="#222" opacity="0.03"/>
</g><g filter="url(#bl)">
<rect x="411.0" y="110.2" width="7.0" height="2.0" rx="1.0" fill="#161616" opacity="0.15"/>
<rect x="423.2" y="109.7" width="9.5" height="3.0" rx="1.5" fill="#161616" opacity="0.72"/>
<rect x="444.1" y="109.1" width="13.5" height="3.8" rx="1.8" fill="#161616" opacity="0.85"/>
<rect x="458.6" y="110.5" width="10.0" height="2.4" rx="1.2" fill="#161616" opacity="0.50"/>
<rect x="469.5" y="108.8" width="17.3" height="5.4" rx="1.8" fill="#161616" opacity="0.95"/>
<rect x="398.1" y="109.7" width="6.0" height="2.0" rx="1.0" fill="#161616" opacity="0.10"/>
<rect x="345.8" y="113.2" width="3.0" height="2.0" rx="1.0" fill="#161616" opacity="0.15"/>
<rect x="361.4" y="111.7" width="4.0" height="2.0" rx="1.0" fill="#161616" opacity="0.12"/>
</g></g>
<clipPath id="c327_122"><rect x="327" y="122.5" width="160.8" height="21"/></clipPath>
<rect x="327" y="122.5" width="160.8" height="21" fill="#c9c9c9"/>
<g clip-path="url(#c327_122)"><g filter="url(#bl2)">
<rect x="326.6" y="131.2" width="14.4" height="5.6" rx="2" fill="#222" opacity="0.22"/>
<rect x="340.1" y="131.2" width="14.4" height="5.6" rx="2" fill="#222" opacity="0.22"/>
<rect x="353.5" y="131.2" width="14.4" height="5.6" rx="2" fill="#222" opacity="0.22"/>
<rect x="366.9" y="131.2" width="14.4" height="5.6" rx="2" fill="#222" opacity="0.22"/>
<rect x="380.4" y="131.2" width="14.4" height="5.6" rx="2" fill="#222" opacity="0.22"/>
<rect x="393.9" y="131.2" width="14.4" height="5.6" rx="2" fill="#222" opacity="0.22"/>
<rect x="407.3" y="131.2" width="14.4" height="5.6" rx="2" fill="#222" opacity="0.22"/>
<rect x="420.8" y="131.2" width="14.4" height="5.6" rx="2" fill="#222" opacity="0.22"/>
<rect x="434.2" y="130.2" width="14.4" height="5.6" rx="2" fill="#222" opacity="0.22"/>
<rect x="447.7" y="130.2" width="14.4" height="5.6" rx="2" fill="#222" opacity="0.22"/>
<rect x="461.1" y="130.2" width="14.4" height="5.6" rx="2" fill="#222" opacity="0.22"/>
<rect x="474.6" y="130.2" width="14.4" height="5.6" rx="2" fill="#222" opacity="0.22"/>
<rect x="326.3" y="131.8" width="163.0" height="4.0" rx="2" fill="#222" opacity="0.07"/>
</g><g filter="url(#bl)">
<rect x="328.1" y="132.5" width="11.4" height="3.0" rx="1.5" fill="#161616" opacity="0.90"/>
<rect x="341.6" y="132.5" width="11.4" height="3.0" rx="1.5" fill="#161616" opacity="0.90"/>
<rect x="355.0" y="132.5" width="11.4" height="3.0" rx="1.5" fill="#161616" opacity="0.90"/>
<rect x="368.4" y="132.5" width="11.4" height="3.0" rx="1.5" fill="#161616" opacity="0.90"/>
<rect x="381.9" y="132.5" width="11.4" height="3.0" rx="1.5" fill="#161616" opacity="0.90"/>
<rect x="395.4" y="132.5" width="11.4" height="3.0" rx="1.5" fill="#161616" opacity="0.90"/>
<rect x="408.8" y="132.5" width="11.4" height="3.0" rx="1.5" fill="#161616" opacity="0.90"/>
<rect x="422.2" y="132.5" width="11.4" height="3.0" rx="1.5" fill="#161616" opacity="0.90"/>
<rect x="435.7" y="131.5" width="11.4" height="3.0" rx="1.5" fill="#161616" opacity="0.90"/>
<rect x="449.2" y="131.5" width="11.4" height="3.0" rx="1.5" fill="#161616" opacity="0.90"/>
<rect x="462.6" y="131.5" width="11.4" height="3.0" rx="1.5" fill="#161616" opacity="0.90"/>
<rect x="476.1" y="131.5" width="11.4" height="3.0" rx="1.5" fill="#161616" opacity="0.90"/>
<rect x="327.8" y="133.1" width="160.0" height="1.4" rx="0.7" fill="#161616" opacity="0.30"/>
</g></g>
<clipPath id="c327_145"><rect x="327" y="145.8" width="160.8" height="16.3"/></clipPath>
<rect x="327" y="145.8" width="160.8" height="16.3" fill="#c7c7c7"/>
<g clip-path="url(#c327_145)"><g filter="url(#bl2)">
<rect x="342.8" y="152.8" width="9.0" height="5.2" rx="2" fill="#222" opacity="0.02"/>
<rect x="355.2" y="151.8" width="11.0" height="5.6" rx="2" fill="#222" opacity="0.07"/>
<rect x="367.6" y="151.2" width="13.0" height="6.4" rx="2" fill="#222" opacity="0.18"/>
<rect x="381.6" y="151.4" width="12.0" height="6.0" rx="2" fill="#222" opacity="0.09"/>
<rect x="394.3" y="150.8" width="13.5" height="6.8" rx="2" fill="#222" opacity="0.19"/>
<rect x="394.6" y="146.4" width="13.0" height="7.1" rx="2" fill="#222" opacity="0.07"/>
<rect x="409.0" y="151.5" width="11.0" height="5.2" rx="2" fill="#222" opacity="0.05"/>
<rect x="421.4" y="150.2" width="13.0" height="6.6" rx="2" fill="#222" opacity="0.18"/>
<rect x="421.9" y="145.8" width="12.0" height="5.6" rx="2" fill="#222" opacity="0.11"/>
<rect x="435.9" y="150.9" width="11.0" height="5.2" rx="2" fill="#222" opacity="0.06"/>
<rect x="448.4" y="149.8" width="13.0" height="6.6" rx="2" fill="#222" opacity="0.17"/>
<rect x="448.9" y="145.8" width="12.0" height="6.2" rx="2" fill="#222" opacity="0.10"/>
<rect x="463.3" y="151.5" width="10.0" height="5.0" rx="2" fill="#222" opacity="0.02"/>
</g><g filter="url(#bl)">
<rect x="344.2" y="154.2" width="6.0" height="2.6" rx="1.3" fill="#161616" opacity="0.10"/>
<rect x="356.7" y="153.1" width="8.0" height="3.0" rx="1.5" fill="#161616" opacity="0.30"/>
<rect x="369.1" y="152.5" width="10.0" height="3.8" rx="1.8" fill="#161616" opacity="0.75"/>
<rect x="383.1" y="152.7" width="9.0" height="3.4" rx="1.7" fill="#161616" opacity="0.36"/>
<rect x="395.8" y="152.1" width="10.5" height="4.2" rx="1.8" fill="#161616" opacity="0.78"/>
<rect x="396.1" y="147.7" width="10.0" height="4.5" rx="1.8" fill="#161616" opacity="0.28"/>
<rect x="410.5" y="152.8" width="8.0" height="2.6" rx="1.3" fill="#161616" opacity="0.22"/>
<rect x="422.9" y="151.6" width="10.0" height="4.0" rx="1.8" fill="#161616" opacity="0.75"/>
<rect x="423.4" y="147.1" width="9.0" height="3.0" rx="1.5" fill="#161616" opacity="0.45"/>
<rect x="437.4" y="152.2" width="8.0" height="2.6" rx="1.3" fill="#161616" opacity="0.25"/>
<rect x="449.9" y="151.2" width="10.0" height="4.0" rx="1.8" fill="#161616" opacity="0.72"/>
<rect x="450.4" y="147.2" width="9.0" height="3.6" rx="1.8" fill="#161616" opacity="0.40"/>
<rect x="464.8" y="152.8" width="7.0" height="2.4" rx="1.2" fill="#161616" opacity="0.10"/>
</g></g>
<clipPath id="c327_166"><rect x="327" y="166" width="160.8" height="15.9"/></clipPath>
<rect x="327" y="166" width="160.8" height="15.9" fill="#c5c5c5"/>
<g clip-path="url(#c327_166)"><g filter="url(#bl2)">
<rect x="326.3" y="172.0" width="15.0" height="6.6" rx="2" fill="#222" opacity="0.22"/>
<rect x="339.8" y="172.0" width="15.0" height="6.6" rx="2" fill="#222" opacity="0.22"/>
<rect x="335.0" y="172.2" width="11.0" height="6.2" rx="2" fill="#222" opacity="0.22"/>
<rect x="355.2" y="173.3" width="11.0" height="5.2" rx="2" fill="#222" opacity="0.19"/>
<rect x="366.9" y="172.0" width="14.5" height="6.2" rx="2" fill="#222" opacity="0.22"/>
<rect x="380.1" y="171.5" width="15.0" height="6.4" rx="2" fill="#222" opacity="0.22"/>
<rect x="393.3" y="170.9" width="15.5" height="6.8" rx="2" fill="#222" opacity="0.22"/>
<rect x="406.8" y="171.0" width="15.5" height="6.6" rx="2" fill="#222" opacity="0.22"/>
<rect x="420.2" y="170.8" width="15.5" height="6.6" rx="2" fill="#222" opacity="0.22"/>
<rect x="388.8" y="171.5" width="11.0" height="6.0" rx="2" fill="#222" opacity="0.22"/>
<rect x="402.3" y="171.2" width="11.0" height="6.2" rx="2" fill="#222" opacity="0.22"/>
<rect x="415.7" y="171.1" width="11.0" height="6.2" rx="2" fill="#222" opacity="0.22"/>
<rect x="434.1" y="171.2" width="14.5" height="5.8" rx="2" fill="#222" opacity="0.21"/>
<rect x="447.6" y="171.4" width="14.5" height="5.8" rx="2" fill="#222" opacity="0.21"/>
<rect x="443.6" y="171.5" width="9.0" height="5.4" rx="2" fill="#222" opacity="0.19"/>
<rect x="461.8" y="170.8" width="13.0" height="5.8" rx="2" fill="#222" opacity="0.21"/>
<rect x="476.2" y="170.7" width="11.0" height="5.2" rx="2" fill="#222" opacity="0.17"/>
</g><g filter="url(#bl)">
<rect x="327.8" y="173.3" width="12.0" height="4.0" rx="1.8" fill="#161616" opacity="0.92"/>
<rect x="341.2" y="173.3" width="12.0" height="4.0" rx="1.8" fill="#161616" opacity="0.92"/>
<rect x="336.5" y="173.5" width="8.0" height="3.6" rx="1.8" fill="#161616" opacity="0.90"/>
<rect x="356.7" y="174.6" width="8.0" height="2.6" rx="1.3" fill="#161616" opacity="0.80"/>
<rect x="368.4" y="173.3" width="11.5" height="3.6" rx="1.8" fill="#161616" opacity="0.90"/>
<rect x="381.6" y="172.8" width="12.0" height="3.8" rx="1.8" fill="#161616" opacity="0.92"/>
<rect x="394.8" y="172.2" width="12.5" height="4.2" rx="1.8" fill="#161616" opacity="0.92"/>
<rect x="408.2" y="172.3" width="12.5" height="4.0" rx="1.8" fill="#161616" opacity="0.92"/>
<rect x="421.7" y="172.1" width="12.5" height="4.0" rx="1.8" fill="#161616" opacity="0.92"/>
<rect x="390.3" y="172.8" width="8.0" height="3.4" rx="1.7" fill="#161616" opacity="0.90"/>
<rect x="403.8" y="172.5" width="8.0" height="3.6" rx="1.8" fill="#161616" opacity="0.90"/>
<rect x="417.2" y="172.4" width="8.0" height="3.6" rx="1.8" fill="#161616" opacity="0.90"/>
<rect x="435.6" y="172.5" width="11.5" height="3.2" rx="1.6" fill="#161616" opacity="0.88"/>
<rect x="449.1" y="172.8" width="11.5" height="3.2" rx="1.6" fill="#161616" opacity="0.88"/>
<rect x="445.1" y="172.8" width="6.0" height="2.8" rx="1.4" fill="#161616" opacity="0.80"/>
<rect x="463.3" y="172.2" width="10.0" height="3.2" rx="1.6" fill="#161616" opacity="0.88"/>
<rect x="477.8" y="172.0" width="8.0" height="2.6" rx="1.3" fill="#161616" opacity="0.70"/>
</g></g>
<clipPath id="c327_186"><rect x="327" y="186.2" width="160.8" height="14.6"/></clipPath>
<rect x="327" y="186.2" width="160.8" height="14.6" fill="#c9c9c9"/>
<g clip-path="url(#c327_186)"><g filter="url(#bl2)">
<rect x="326.8" y="191.2" width="14.0" height="6.4" rx="2" fill="#222" opacity="0.21"/>
<rect x="340.2" y="191.6" width="14.0" height="6.4" rx="2" fill="#222" opacity="0.21"/>
<rect x="336.5" y="191.8" width="8.0" height="5.6" rx="2" fill="#222" opacity="0.14"/>
<rect x="367.1" y="191.8" width="14.0" height="6.8" rx="2" fill="#222" opacity="0.22"/>
<rect x="396.1" y="193.1" width="10.0" height="5.0" rx="2" fill="#222" opacity="0.10"/>
<rect x="409.5" y="192.4" width="10.0" height="4.8" rx="2" fill="#222" opacity="0.09"/>
<rect x="423.4" y="191.7" width="9.0" height="4.6" rx="2" fill="#222" opacity="0.03"/>
<rect x="434.9" y="190.6" width="13.0" height="5.6" rx="2" fill="#222" opacity="0.14"/>
<rect x="447.4" y="190.2" width="15.0" height="6.4" rx="2" fill="#222" opacity="0.20"/>
<rect x="443.6" y="190.6" width="9.0" height="5.6" rx="2" fill="#222" opacity="0.17"/>
<rect x="462.3" y="191.5" width="12.0" height="5.4" rx="2" fill="#222" opacity="0.12"/>
<rect x="476.2" y="192.0" width="11.0" height="5.2" rx="2" fill="#222" opacity="0.09"/>
</g><g filter="url(#bl)">
<rect x="328.3" y="192.5" width="11.0" height="3.8" rx="1.8" fill="#161616" opacity="0.88"/>
<rect x="341.8" y="192.9" width="11.0" height="3.8" rx="1.8" fill="#161616" opacity="0.88"/>
<rect x="338.0" y="193.1" width="5.0" height="3.0" rx="1.5" fill="#161616" opacity="0.60"/>
<rect x="368.6" y="193.1" width="11.0" height="4.2" rx="1.8" fill="#161616" opacity="0.92"/>
<rect x="397.6" y="194.4" width="7.0" height="2.4" rx="1.2" fill="#161616" opacity="0.42"/>
<rect x="411.0" y="193.7" width="7.0" height="2.2" rx="1.1" fill="#161616" opacity="0.36"/>
<rect x="424.9" y="193.0" width="6.0" height="2.0" rx="1.0" fill="#161616" opacity="0.12"/>
<rect x="436.4" y="191.9" width="10.0" height="3.0" rx="1.5" fill="#161616" opacity="0.60"/>
<rect x="448.9" y="191.5" width="12.0" height="3.8" rx="1.8" fill="#161616" opacity="0.85"/>
<rect x="445.1" y="191.9" width="6.0" height="3.0" rx="1.5" fill="#161616" opacity="0.70"/>
<rect x="463.8" y="192.8" width="9.0" height="2.8" rx="1.4" fill="#161616" opacity="0.50"/>
<rect x="477.8" y="193.3" width="8.0" height="2.6" rx="1.3" fill="#161616" opacity="0.36"/>
</g></g>
<clipPath id="c327_204"><rect x="327" y="204" width="160.8" height="16.6"/></clipPath>
<rect x="327" y="204" width="160.8" height="16.6" fill="#cccccc"/>
<g clip-path="url(#c327_204)"><g filter="url(#bl2)">
<rect x="328.8" y="211.3" width="10.0" height="4.8" rx="2" fill="#222" opacity="0.05"/>
<rect x="342.2" y="211.9" width="10.0" height="4.8" rx="2" fill="#222" opacity="0.05"/>
<rect x="369.1" y="211.3" width="10.0" height="4.8" rx="2" fill="#222" opacity="0.06"/>
<rect x="393.0" y="210.9" width="11.5" height="5.6" rx="2" fill="#222" opacity="0.15"/>
<rect x="393.4" y="202.0" width="10.0" height="4.6" rx="2" fill="#222" opacity="0.10"/>
<rect x="419.0" y="210.8" width="13.0" height="5.8" rx="2" fill="#222" opacity="0.19"/>
<rect x="441.8" y="210.2" width="18.0" height="7.4" rx="2" fill="#222" opacity="0.22"/>
<rect x="469.7" y="208.2" width="19.6" height="10.2" rx="2" fill="#222" opacity="0.24"/>
<rect x="461.1" y="212.4" width="9.0" height="4.6" rx="2" fill="#222" opacity="0.03"/>
</g><g filter="url(#bl)">
<rect x="330.3" y="212.6" width="7.0" height="2.2" rx="1.1" fill="#161616" opacity="0.22"/>
<rect x="343.8" y="213.2" width="7.0" height="2.2" rx="1.1" fill="#161616" opacity="0.20"/>
<rect x="370.6" y="212.6" width="7.0" height="2.2" rx="1.1" fill="#161616" opacity="0.26"/>
<rect x="394.5" y="212.2" width="8.5" height="3.0" rx="1.5" fill="#161616" opacity="0.62"/>
<rect x="394.9" y="203.3" width="7.0" height="2.0" rx="1.0" fill="#161616" opacity="0.40"/>
<rect x="420.5" y="212.1" width="10.0" height="3.2" rx="1.6" fill="#161616" opacity="0.78"/>
<rect x="443.3" y="211.5" width="15.0" height="4.8" rx="1.8" fill="#161616" opacity="0.92"/>
<rect x="471.2" y="209.5" width="16.6" height="7.6" rx="1.8" fill="#161616" opacity="0.98"/>
<rect x="462.6" y="213.7" width="6.0" height="2.0" rx="1.0" fill="#161616" opacity="0.12"/>
</g></g>
<clipPath id="c327_223"><rect x="327" y="223.5" width="160.8" height="21.1"/></clipPath>
<rect x="327" y="223.5" width="160.8" height="21.1" fill="#c8c8c8"/>
<g clip-path="url(#c327_223)"><g filter="url(#bl2)">
<rect x="325.9" y="231.9" width="15.8" height="6.0" rx="2" fill="#222" opacity="0.22"/>
<rect x="339.4" y="231.9" width="15.8" height="6.0" rx="2" fill="#222" opacity="0.22"/>
<rect x="352.8" y="231.9" width="15.8" height="6.0" rx="2" fill="#222" opacity="0.22"/>
<rect x="366.2" y="231.9" width="15.8" height="6.0" rx="2" fill="#222" opacity="0.22"/>
<rect x="379.7" y="231.9" width="15.8" height="6.0" rx="2" fill="#222" opacity="0.22"/>
<rect x="393.2" y="231.9" width="15.8" height="6.0" rx="2" fill="#222" opacity="0.22"/>
<rect x="406.6" y="231.9" width="15.8" height="6.0" rx="2" fill="#222" opacity="0.22"/>
<rect x="420.1" y="231.9" width="15.8" height="6.0" rx="2" fill="#222" opacity="0.22"/>
<rect x="433.5" y="231.9" width="15.8" height="6.0" rx="2" fill="#222" opacity="0.22"/>
<rect x="447.0" y="231.9" width="15.8" height="6.0" rx="2" fill="#222" opacity="0.22"/>
<rect x="461.3" y="232.6" width="14.0" height="5.8" rx="2" fill="#222" opacity="0.22"/>
<rect x="474.8" y="232.8" width="14.0" height="5.8" rx="2" fill="#222" opacity="0.22"/>
<rect x="324.6" y="232.5" width="153.0" height="4.8" rx="2" fill="#222" opacity="0.13"/>
</g><g filter="url(#bl)">
<rect x="327.4" y="233.2" width="12.8" height="3.4" rx="1.7" fill="#161616" opacity="0.92"/>
<rect x="340.9" y="233.2" width="12.8" height="3.4" rx="1.7" fill="#161616" opacity="0.92"/>
<rect x="354.3" y="233.2" width="12.8" height="3.4" rx="1.7" fill="#161616" opacity="0.92"/>
<rect x="367.8" y="233.2" width="12.8" height="3.4" rx="1.7" fill="#161616" opacity="0.92"/>
<rect x="381.2" y="233.2" width="12.8" height="3.4" rx="1.7" fill="#161616" opacity="0.92"/>
<rect x="394.7" y="233.2" width="12.8" height="3.4" rx="1.7" fill="#161616" opacity="0.92"/>
<rect x="408.1" y="233.2" width="12.8" height="3.4" rx="1.7" fill="#161616" opacity="0.92"/>
<rect x="421.6" y="233.2" width="12.8" height="3.4" rx="1.7" fill="#161616" opacity="0.92"/>
<rect x="435.0" y="233.2" width="12.8" height="3.4" rx="1.7" fill="#161616" opacity="0.92"/>
<rect x="448.5" y="233.2" width="12.8" height="3.4" rx="1.7" fill="#161616" opacity="0.92"/>
<rect x="462.8" y="233.9" width="11.0" height="3.2" rx="1.6" fill="#161616" opacity="0.90"/>
<rect x="476.2" y="234.1" width="11.0" height="3.2" rx="1.6" fill="#161616" opacity="0.90"/>
<rect x="326.1" y="233.8" width="150.0" height="2.2" rx="1.1" fill="#161616" opacity="0.55"/>
</g></g>
<text x="325.3" y="57.3" font-size="9.9" text-anchor="end" fill="#0a0a0a">p-CHK1 (S345)</text>
<text x="323.2" y="76.7" font-size="9.9" text-anchor="end" fill="#0a0a0a">CHK1</text>
<text x="325.3" y="96.2" font-size="9.9" text-anchor="end" fill="#0a0a0a">p-HH3 (S10)</text>
<text x="325.3" y="113.2" font-size="9.9" text-anchor="end" fill="#0a0a0a">γ-H2Ax</text>
<text x="325.3" y="134.8" font-size="9.9" text-anchor="end" fill="#0a0a0a">β-Actin</text>
<text x="325.3" y="157.3" font-size="9.9" text-anchor="end" fill="#0a0a0a">p-CHK1 (S345)</text>
<text x="323.2" y="177.2" font-size="9.9" text-anchor="end" fill="#0a0a0a">CHK1</text>
<text x="325.3" y="197.1" font-size="9.9" text-anchor="end" fill="#0a0a0a">p-HH3 (S10)</text>
<text x="325.3" y="215.3" font-size="9.9" text-anchor="end" fill="#0a0a0a">γ-H2Ax</text>
<text x="325.3" y="235.7" font-size="9.9" text-anchor="end" fill="#0a0a0a">β-Actin</text>
<line x1="494.4" y1="42.5" x2="494.4" y2="143.6" stroke="#111" stroke-width="1"/>
<line x1="494.4" y1="147.3" x2="494.4" y2="244.8" stroke="#111" stroke-width="1"/>
<text x="498.8" y="95" font-size="10.2" text-anchor="start" fill="#0a0a0a">HN4</text>
<text x="498.8" y="196.3" font-size="10.2" text-anchor="start" fill="#0a0a0a">HN5</text>
</g>
<g id="panelE">
<text x="234" y="408.8" font-size="12.5" font-weight="bold" text-anchor="start" fill="#0a0a0a">E</text>
<text x="358.8" y="408.9" font-size="11.3" text-anchor="middle" fill="#0a0a0a">HN4</text>
<text x="469.5" y="408.9" font-size="11.3" text-anchor="middle" fill="#0a0a0a">HN5</text>
<line x1="303.8" y1="412.3" x2="405.2" y2="412.3" stroke="#111" stroke-width="1"/>
<line x1="411" y1="412.3" x2="514.8" y2="412.3" stroke="#111" stroke-width="1"/>
<text x="300.2" y="423.3" font-size="10.05" text-anchor="end" fill="#0a0a0a">PTX (hrs) :</text>
<text x="298.6" y="438.7" font-size="10" text-anchor="end" fill="#0a0a0a">CCT:</text>
<text x="307.2" y="424.2" font-size="9.6" text-anchor="middle" fill="#0a0a0a">0</text>
<line x1="303.8" y1="427.6" x2="311.2" y2="427.6" stroke="#111" stroke-width="1"/>
<text x="325" y="424.2" font-size="9.6" text-anchor="middle" fill="#0a0a0a">6</text>
<line x1="315.3" y1="427.6" x2="334.2" y2="427.6" stroke="#111" stroke-width="1"/>
<text x="346.9" y="424.2" font-size="9.6" text-anchor="middle" fill="#0a0a0a">12</text>
<line x1="337.7" y1="427.6" x2="356.8" y2="427.6" stroke="#111" stroke-width="1"/>
<text x="372.3" y="424.2" font-size="9.6" text-anchor="middle" fill="#0a0a0a">24</text>
<line x1="361.2" y1="427.6" x2="380.9" y2="427.6" stroke="#111" stroke-width="1"/>
<text x="396.5" y="424.2" font-size="9.6" text-anchor="middle" fill="#0a0a0a">48</text>
<line x1="385" y1="427.6" x2="404.6" y2="427.6" stroke="#111" stroke-width="1"/>
<text x="307.7" y="438.9" font-size="9" font-weight="bold" text-anchor="middle" fill="#0a0a0a">−</text>
<text x="319.15" y="438.9" font-size="9" font-weight="bold" text-anchor="middle" fill="#0a0a0a">−</text>
<text x="330.6" y="439.6" font-size="10.5" font-weight="bold" text-anchor="middle" fill="#0a0a0a">+</text>
<text x="342.05" y="438.9" font-size="9" font-weight="bold" text-anchor="middle" fill="#0a0a0a">−</text>
<text x="353.5" y="439.6" font-size="10.5" font-weight="bold" text-anchor="middle" fill="#0a0a0a">+</text>
<text x="364.95" y="438.9" font-size="9" font-weight="bold" text-anchor="middle" fill="#0a0a0a">−</text>
<text x="376.4" y="439.6" font-size="10.5" font-weight="bold" text-anchor="middle" fill="#0a0a0a">+</text>
<text x="387.85" y="438.9" font-size="9" font-weight="bold" text-anchor="middle" fill="#0a0a0a">−</text>
<text x="399.3" y="439.6" font-size="10.5" font-weight="bold" text-anchor="middle" fill="#0a0a0a">+</text>
<text x="417" y="424.2" font-size="9.6" text-anchor="middle" fill="#0a0a0a">0</text>
<line x1="413.2" y1="427.6" x2="421.9" y2="427.6" stroke="#111" stroke-width="1"/>
<text x="435.3" y="424.2" font-size="9.6" text-anchor="middle" fill="#0a0a0a">6</text>
<line x1="425.8" y1="427.6" x2="444.3" y2="427.6" stroke="#111" stroke-width="1"/>
<text x="456.7" y="424.2" font-size="9.6" text-anchor="middle" fill="#0a0a0a">12</text>
<line x1="448" y1="427.6" x2="466.9" y2="427.6" stroke="#111" stroke-width="1"/>
<text x="483.3" y="424.2" font-size="9.6" text-anchor="middle" fill="#0a0a0a">24</text>
<line x1="472.7" y1="427.6" x2="491.6" y2="427.6" stroke="#111" stroke-width="1"/>
<text x="506.8" y="424.2" font-size="9.6" text-anchor="middle" fill="#0a0a0a">48</text>
<line x1="495.8" y1="427.6" x2="514.7" y2="427.6" stroke="#111" stroke-width="1"/>
<text x="416.9" y="438.9" font-size="9" font-weight="bold" text-anchor="middle" fill="#0a0a0a">−</text>
<text x="428.35" y="438.9" font-size="9" font-weight="bold" text-anchor="middle" fill="#0a0a0a">−</text>
<text x="439.8" y="439.6" font-size="10.5" font-weight="bold" text-anchor="middle" fill="#0a0a0a">+</text>
<text x="451.25" y="438.9" font-size="9" font-weight="bold" text-anchor="middle" fill="#0a0a0a">−</text>
<text x="462.7" y="439.6" font-size="10.5" font-weight="bold" text-anchor="middle" fill="#0a0a0a">+</text>
<text x="474.15" y="438.9" font-size="9" font-weight="bold" text-anchor="middle" fill="#0a0a0a">−</text>
<text x="485.6" y="439.6" font-size="10.5" font-weight="bold" text-anchor="middle" fill="#0a0a0a">+</text>
<text x="497.05" y="438.9" font-size="9" font-weight="bold" text-anchor="middle" fill="#0a0a0a">−</text>
<text x="508.5" y="439.6" font-size="10.5" font-weight="bold" text-anchor="middle" fill="#0a0a0a">+</text>
<clipPath id="c301_443"><rect x="301.4" y="443.7" width="106.2" height="13.3"/></clipPath>
<rect x="301.4" y="443.7" width="106.2" height="13.3" fill="#bbbbbb"/>
<g clip-path="url(#c301_443)"><g filter="url(#bl2)">
<rect x="303.2" y="447.4" width="9.0" height="4.6" rx="2" fill="#222" opacity="0.02"/>
<rect x="314.6" y="447.4" width="9.0" height="4.6" rx="2" fill="#222" opacity="0.02"/>
<rect x="324.6" y="446.9" width="12.0" height="5.6" rx="2" fill="#222" opacity="0.16"/>
<rect x="337.0" y="447.8" width="10.0" height="5.0" rx="2" fill="#222" opacity="0.07"/>
<rect x="347.8" y="447.6" width="11.5" height="5.4" rx="2" fill="#222" opacity="0.13"/>
<rect x="369.9" y="447.6" width="13.0" height="6.2" rx="2" fill="#222" opacity="0.20"/>
</g><g filter="url(#bl)">
<rect x="304.7" y="448.7" width="6.0" height="2.0" rx="1.0" fill="#161616" opacity="0.10"/>
<rect x="316.1" y="448.7" width="6.0" height="2.0" rx="1.0" fill="#161616" opacity="0.10"/>
<rect x="326.1" y="448.2" width="9.0" height="3.0" rx="1.5" fill="#161616" opacity="0.66"/>
<rect x="338.5" y="449.1" width="7.0" height="2.4" rx="1.2" fill="#161616" opacity="0.30"/>
<rect x="349.2" y="448.9" width="8.5" height="2.8" rx="1.4" fill="#161616" opacity="0.55"/>
<rect x="371.4" y="448.9" width="10.0" height="3.6" rx="1.8" fill="#161616" opacity="0.85"/>
</g></g>
<clipPath id="c410_443"><rect x="410.8" y="443.7" width="105.8" height="13.3"/></clipPath>
<rect x="410.8" y="443.7" width="105.8" height="13.3" fill="#bbbbbb"/>
<g clip-path="url(#c410_443)"><g filter="url(#bl2)">
<rect x="411.9" y="449.9" width="10.0" height="4.8" rx="2" fill="#222" opacity="0.06"/>
<rect x="422.8" y="449.1" width="11.0" height="5.0" rx="2" fill="#222" opacity="0.09"/>
<rect x="433.8" y="448.8" width="12.0" height="5.4" rx="2" fill="#222" opacity="0.15"/>
<rect x="445.8" y="448.1" width="11.0" height="5.2" rx="2" fill="#222" opacity="0.10"/>
<rect x="456.2" y="447.4" width="13.0" height="6.4" rx="2" fill="#222" opacity="0.21"/>
<rect x="469.1" y="447.6" width="10.0" height="4.6" rx="2" fill="#222" opacity="0.04"/>
<rect x="480.1" y="447.5" width="11.0" height="4.8" rx="2" fill="#222" opacity="0.06"/>
<rect x="491.5" y="447.4" width="11.0" height="5.0" rx="2" fill="#222" opacity="0.09"/>
<rect x="503.5" y="447.2" width="10.0" height="4.6" rx="2" fill="#222" opacity="0.05"/>
<rect x="457.2" y="443.0" width="11.0" height="7.6" rx="2" fill="#222" opacity="0.05"/>
</g><g filter="url(#bl)">
<rect x="413.4" y="451.2" width="7.0" height="2.2" rx="1.1" fill="#161616" opacity="0.25"/>
<rect x="424.3" y="450.4" width="8.0" height="2.4" rx="1.2" fill="#161616" opacity="0.36"/>
<rect x="435.3" y="450.1" width="9.0" height="2.8" rx="1.4" fill="#161616" opacity="0.62"/>
<rect x="447.2" y="449.4" width="8.0" height="2.6" rx="1.3" fill="#161616" opacity="0.42"/>
<rect x="457.7" y="448.8" width="10.0" height="3.8" rx="1.8" fill="#161616" opacity="0.88"/>
<rect x="470.6" y="448.9" width="7.0" height="2.0" rx="1.0" fill="#161616" opacity="0.16"/>
<rect x="481.6" y="448.8" width="8.0" height="2.2" rx="1.1" fill="#161616" opacity="0.26"/>
<rect x="493.0" y="448.8" width="8.0" height="2.4" rx="1.2" fill="#161616" opacity="0.38"/>
<rect x="505.0" y="448.5" width="7.0" height="2.0" rx="1.0" fill="#161616" opacity="0.20"/>
<rect x="458.7" y="444.3" width="8.0" height="5.0" rx="1.8" fill="#161616" opacity="0.20"/>
</g></g>
<text x="301" y="453.3" font-size="10.1" text-anchor="end" fill="#0a0a0a">p-CHK1 (S345)</text>
<clipPath id="c301_460"><rect x="301.4" y="460" width="106.2" height="16.2"/></clipPath>
<rect x="301.4" y="460" width="106.2" height="16.2" fill="#b3b3b3"/>
<g clip-path="url(#c301_460)"><g filter="url(#bl2)">
<rect x="301.0" y="465.2" width="13.4" height="5.8" rx="2" fill="#222" opacity="0.22"/>
<rect x="312.4" y="465.2" width="13.4" height="5.8" rx="2" fill="#222" opacity="0.22"/>
<rect x="323.9" y="465.2" width="13.4" height="5.8" rx="2" fill="#222" opacity="0.22"/>
<rect x="335.3" y="465.2" width="13.4" height="5.8" rx="2" fill="#222" opacity="0.22"/>
<rect x="346.8" y="465.2" width="13.4" height="5.8" rx="2" fill="#222" opacity="0.22"/>
<rect x="358.2" y="465.2" width="13.4" height="5.8" rx="2" fill="#222" opacity="0.22"/>
<rect x="369.9" y="464.8" width="13.0" height="5.6" rx="2" fill="#222" opacity="0.21"/>
<rect x="382.3" y="464.6" width="11.0" height="5.0" rx="2" fill="#222" opacity="0.16"/>
<rect x="394.8" y="465.0" width="9.0" height="4.6" rx="2" fill="#222" opacity="0.06"/>
</g><g filter="url(#bl)">
<rect x="302.5" y="466.5" width="10.4" height="3.2" rx="1.6" fill="#161616" opacity="0.90"/>
<rect x="313.9" y="466.5" width="10.4" height="3.2" rx="1.6" fill="#161616" opacity="0.90"/>
<rect x="325.4" y="466.5" width="10.4" height="3.2" rx="1.6" fill="#161616" opacity="0.90"/>
<rect x="336.8" y="466.5" width="10.4" height="3.2" rx="1.6" fill="#161616" opacity="0.90"/>
<rect x="348.3" y="466.5" width="10.4" height="3.2" rx="1.6" fill="#161616" opacity="0.90"/>
<rect x="359.8" y="466.5" width="10.4" height="3.2" rx="1.6" fill="#161616" opacity="0.90"/>
<rect x="371.4" y="466.1" width="10.0" height="3.0" rx="1.5" fill="#161616" opacity="0.88"/>
<rect x="383.8" y="465.9" width="8.0" height="2.4" rx="1.2" fill="#161616" opacity="0.65"/>
<rect x="396.3" y="466.3" width="6.0" height="2.0" rx="1.0" fill="#161616" opacity="0.25"/>
</g></g>
<clipPath id="c410_460"><rect x="410.8" y="460" width="105.8" height="16.2"/></clipPath>
<rect x="410.8" y="460" width="105.8" height="16.2" fill="#b3b3b3"/>
<g clip-path="url(#c410_460)"><g filter="url(#bl2)">
<rect x="410.4" y="468.6" width="13.0" height="5.4" rx="2" fill="#222" opacity="0.21"/>
<rect x="421.6" y="468.1" width="13.4" height="5.6" rx="2" fill="#222" opacity="0.22"/>
<rect x="433.3" y="468.1" width="13.0" height="5.6" rx="2" fill="#222" opacity="0.22"/>
<rect x="444.4" y="467.7" width="13.8" height="6.4" rx="2" fill="#222" opacity="0.22"/>
<rect x="456.2" y="466.9" width="13.0" height="5.6" rx="2" fill="#222" opacity="0.22"/>
<rect x="467.6" y="466.1" width="13.0" height="5.8" rx="2" fill="#222" opacity="0.22"/>
<rect x="480.6" y="466.7" width="10.0" height="4.6" rx="2" fill="#222" opacity="0.14"/>
<rect x="490.7" y="465.3" width="12.6" height="5.6" rx="2" fill="#222" opacity="0.20"/>
<rect x="503.0" y="466.2" width="11.0" height="4.8" rx="2" fill="#222" opacity="0.14"/>
</g><g filter="url(#bl)">
<rect x="411.9" y="469.9" width="10.0" height="2.8" rx="1.4" fill="#161616" opacity="0.88"/>
<rect x="423.1" y="469.4" width="10.4" height="3.0" rx="1.5" fill="#161616" opacity="0.90"/>
<rect x="434.8" y="469.4" width="10.0" height="3.0" rx="1.5" fill="#161616" opacity="0.90"/>
<rect x="445.9" y="469.0" width="10.8" height="3.8" rx="1.8" fill="#161616" opacity="0.92"/>
<rect x="457.7" y="468.2" width="10.0" height="3.0" rx="1.5" fill="#161616" opacity="0.90"/>
<rect x="469.1" y="467.4" width="10.0" height="3.2" rx="1.6" fill="#161616" opacity="0.90"/>
<rect x="482.1" y="468.0" width="7.0" height="2.0" rx="1.0" fill="#161616" opacity="0.60"/>
<rect x="492.2" y="466.6" width="9.6" height="3.0" rx="1.5" fill="#161616" opacity="0.85"/>
<rect x="504.5" y="467.5" width="8.0" height="2.2" rx="1.1" fill="#161616" opacity="0.60"/>
</g></g>
<text x="301" y="469" font-size="10.1" text-anchor="end" fill="#0a0a0a">CHK1</text>
<clipPath id="c301_479"><rect x="301.4" y="479.6" width="106.2" height="14.8"/></clipPath>
<rect x="301.4" y="479.6" width="106.2" height="14.8" fill="#b6b6b6"/>
<g clip-path="url(#c301_479)"><g filter="url(#bl2)">
<rect x="302.7" y="483.9" width="10.0" height="4.6" rx="2" fill="#222" opacity="0.07"/>
<rect x="312.1" y="484.2" width="14.0" height="6.8" rx="2" fill="#222" opacity="0.22"/>
<rect x="323.3" y="484.2" width="14.6" height="7.2" rx="2" fill="#222" opacity="0.22"/>
<rect x="334.7" y="484.3" width="14.6" height="7.0" rx="2" fill="#222" opacity="0.22"/>
<rect x="346.2" y="484.1" width="14.6" height="6.6" rx="2" fill="#222" opacity="0.22"/>
<rect x="357.8" y="483.5" width="14.4" height="7.0" rx="2" fill="#222" opacity="0.22"/>
<rect x="319.4" y="484.4" width="11.0" height="6.6" rx="2" fill="#222" opacity="0.22"/>
<rect x="330.8" y="484.4" width="11.0" height="6.8" rx="2" fill="#222" opacity="0.22"/>
<rect x="342.3" y="484.3" width="11.0" height="6.6" rx="2" fill="#222" opacity="0.22"/>
<rect x="353.7" y="484.0" width="11.0" height="6.4" rx="2" fill="#222" opacity="0.22"/>
<rect x="370.9" y="484.1" width="11.0" height="5.4" rx="2" fill="#222" opacity="0.13"/>
<rect x="311.5" y="478.2" width="61.0" height="9.6" rx="2" fill="#222" opacity="0.05"/>
</g><g filter="url(#bl)">
<rect x="304.2" y="485.2" width="7.0" height="2.0" rx="1.0" fill="#161616" opacity="0.30"/>
<rect x="313.6" y="485.5" width="11.0" height="4.2" rx="1.8" fill="#161616" opacity="0.90"/>
<rect x="324.8" y="485.5" width="11.6" height="4.6" rx="1.8" fill="#161616" opacity="0.93"/>
<rect x="336.2" y="485.6" width="11.6" height="4.4" rx="1.8" fill="#161616" opacity="0.93"/>
<rect x="347.7" y="485.4" width="11.6" height="4.0" rx="1.8" fill="#161616" opacity="0.92"/>
<rect x="359.2" y="484.8" width="11.4" height="4.4" rx="1.8" fill="#161616" opacity="0.92"/>
<rect x="320.9" y="485.7" width="8.0" height="4.0" rx="1.8" fill="#161616" opacity="0.90"/>
<rect x="332.3" y="485.7" width="8.0" height="4.2" rx="1.8" fill="#161616" opacity="0.92"/>
<rect x="343.8" y="485.6" width="8.0" height="4.0" rx="1.8" fill="#161616" opacity="0.92"/>
<rect x="355.2" y="485.3" width="8.0" height="3.8" rx="1.8" fill="#161616" opacity="0.92"/>
<rect x="372.4" y="485.4" width="8.0" height="2.8" rx="1.4" fill="#161616" opacity="0.55"/>
<rect x="313.0" y="479.5" width="58.0" height="7.0" rx="1.8" fill="#161616" opacity="0.22"/>
</g></g>
<clipPath id="c410_479"><rect x="410.8" y="479.6" width="105.8" height="14.8"/></clipPath>
<rect x="410.8" y="479.6" width="105.8" height="14.8" fill="#b6b6b6"/>
<g clip-path="url(#c410_479)"><g filter="url(#bl2)">
<rect x="410.9" y="486.5" width="12.0" height="4.2" rx="2" fill="#222" opacity="0.08"/>
<rect x="421.1" y="485.8" width="14.4" height="6.2" rx="2" fill="#222" opacity="0.22"/>
<rect x="432.6" y="486.2" width="14.4" height="5.8" rx="2" fill="#222" opacity="0.22"/>
<rect x="444.1" y="486.1" width="14.4" height="6.0" rx="2" fill="#222" opacity="0.22"/>
<rect x="455.5" y="486.5" width="14.4" height="5.6" rx="2" fill="#222" opacity="0.22"/>
<rect x="428.6" y="486.1" width="11.0" height="5.8" rx="2" fill="#222" opacity="0.22"/>
<rect x="440.0" y="486.2" width="11.0" height="5.8" rx="2" fill="#222" opacity="0.22"/>
<rect x="451.5" y="486.4" width="11.0" height="5.6" rx="2" fill="#222" opacity="0.22"/>
<rect x="462.9" y="486.9" width="11.0" height="5.2" rx="2" fill="#222" opacity="0.20"/>
<rect x="467.6" y="487.2" width="13.0" height="5.0" rx="2" fill="#222" opacity="0.18"/>
<rect x="423.0" y="479.6" width="13.0" height="9.6" rx="2" fill="#222" opacity="0.08"/>
<rect x="445.9" y="479.6" width="13.0" height="9.6" rx="2" fill="#222" opacity="0.06"/>
<rect x="420.9" y="479.6" width="47.0" height="9.6" rx="2" fill="#222" opacity="0.04"/>
<rect x="492.0" y="487.3" width="10.0" height="4.6" rx="2" fill="#222" opacity="0.05"/>
</g><g filter="url(#bl)">
<rect x="412.4" y="487.8" width="9.0" height="1.6" rx="0.8" fill="#161616" opacity="0.35"/>
<rect x="422.6" y="487.1" width="11.4" height="3.6" rx="1.8" fill="#161616" opacity="0.93"/>
<rect x="434.1" y="487.5" width="11.4" height="3.2" rx="1.6" fill="#161616" opacity="0.92"/>
<rect x="445.6" y="487.4" width="11.4" height="3.4" rx="1.7" fill="#161616" opacity="0.92"/>
<rect x="457.0" y="487.8" width="11.4" height="3.0" rx="1.5" fill="#161616" opacity="0.90"/>
<rect x="430.1" y="487.4" width="8.0" height="3.2" rx="1.6" fill="#161616" opacity="0.90"/>
<rect x="441.5" y="487.5" width="8.0" height="3.2" rx="1.6" fill="#161616" opacity="0.90"/>
<rect x="453.0" y="487.7" width="8.0" height="3.0" rx="1.5" fill="#161616" opacity="0.90"/>
<rect x="464.4" y="488.2" width="8.0" height="2.6" rx="1.3" fill="#161616" opacity="0.85"/>
<rect x="469.1" y="488.5" width="10.0" height="2.4" rx="1.2" fill="#161616" opacity="0.75"/>
<rect x="424.5" y="480.9" width="10.0" height="7.0" rx="1.8" fill="#161616" opacity="0.32"/>
<rect x="447.4" y="480.9" width="10.0" height="7.0" rx="1.8" fill="#161616" opacity="0.26"/>
<rect x="422.4" y="480.9" width="44.0" height="7.0" rx="1.8" fill="#161616" opacity="0.18"/>
<rect x="493.5" y="488.6" width="7.0" height="2.0" rx="1.0" fill="#161616" opacity="0.20"/>
</g></g>
<text x="301" y="489.1" font-size="10.1" text-anchor="end" fill="#0a0a0a">p-HH3 (S10)</text>
<clipPath id="c301_498"><rect x="301.4" y="498.4" width="106.2" height="15.4"/></clipPath>
<rect x="301.4" y="498.4" width="106.2" height="15.4" fill="#bababa"/>
<g clip-path="url(#c301_498)"><g filter="url(#bl2)">
<rect x="369.6" y="503.2" width="13.5" height="7.4" rx="2" fill="#222" opacity="0.21"/>
<rect x="381.1" y="504.2" width="13.5" height="6.6" rx="2" fill="#222" opacity="0.20"/>
<rect x="392.5" y="504.9" width="13.5" height="6.0" rx="2" fill="#222" opacity="0.21"/>
<rect x="377.6" y="504.2" width="9.0" height="6.2" rx="2" fill="#222" opacity="0.19"/>
<rect x="389.1" y="504.8" width="9.0" height="5.8" rx="2" fill="#222" opacity="0.19"/>
<rect x="373.2" y="500.4" width="11.0" height="6.6" rx="2" fill="#222" opacity="0.10"/>
<rect x="384.6" y="501.7" width="11.0" height="5.6" rx="2" fill="#222" opacity="0.06"/>
<rect x="327.1" y="505.8" width="7.0" height="4.6" rx="2" fill="#222" opacity="0.03"/>
<rect x="304.2" y="505.8" width="7.0" height="4.6" rx="2" fill="#222" opacity="0.04"/>
<rect x="350.0" y="505.8" width="7.0" height="4.6" rx="2" fill="#222" opacity="0.04"/>
<rect x="360.9" y="505.8" width="8.0" height="4.6" rx="2" fill="#222" opacity="0.07"/>
</g><g filter="url(#bl)">
<rect x="371.1" y="504.5" width="10.5" height="4.8" rx="1.8" fill="#161616" opacity="0.88"/>
<rect x="382.6" y="505.5" width="10.5" height="4.0" rx="1.8" fill="#161616" opacity="0.85"/>
<rect x="394.0" y="506.2" width="10.5" height="3.4" rx="1.7" fill="#161616" opacity="0.88"/>
<rect x="379.1" y="505.5" width="6.0" height="3.6" rx="1.8" fill="#161616" opacity="0.80"/>
<rect x="390.6" y="506.1" width="6.0" height="3.2" rx="1.6" fill="#161616" opacity="0.80"/>
<rect x="374.7" y="501.7" width="8.0" height="4.0" rx="1.8" fill="#161616" opacity="0.40"/>
<rect x="386.1" y="503.0" width="8.0" height="3.0" rx="1.5" fill="#161616" opacity="0.25"/>
<rect x="328.6" y="507.1" width="4.0" height="2.0" rx="1.0" fill="#161616" opacity="0.12"/>
<rect x="305.7" y="507.1" width="4.0" height="2.0" rx="1.0" fill="#161616" opacity="0.15"/>
<rect x="351.5" y="507.1" width="4.0" height="2.0" rx="1.0" fill="#161616" opacity="0.15"/>
<rect x="362.4" y="507.1" width="5.0" height="2.0" rx="1.0" fill="#161616" opacity="0.30"/>
</g></g>
<clipPath id="c410_498"><rect x="410.8" y="498.4" width="105.8" height="15.4"/></clipPath>
<rect x="410.8" y="498.4" width="105.8" height="15.4" fill="#bababa"/>
<g clip-path="url(#c410_498)"><g filter="url(#bl2)">
<rect x="462.1" y="503.4" width="8.0" height="5.0" rx="2" fill="#222" opacity="0.13"/>
<rect x="481.1" y="502.3" width="17.0" height="6.4" rx="2" fill="#222" opacity="0.21"/>
<rect x="493.8" y="503.2" width="11.0" height="5.0" rx="2" fill="#222" opacity="0.11"/>
<rect x="502.6" y="501.0" width="14.0" height="6.6" rx="2" fill="#222" opacity="0.20"/>
<rect x="504.8" y="498.3" width="12.0" height="5.6" rx="2" fill="#222" opacity="0.08"/>
<rect x="413.4" y="499.8" width="7.0" height="4.6" rx="2" fill="#222" opacity="0.04"/>
</g><g filter="url(#bl)">
<rect x="463.6" y="504.7" width="5.0" height="2.4" rx="1.2" fill="#161616" opacity="0.55"/>
<rect x="482.6" y="503.6" width="14.0" height="3.8" rx="1.8" fill="#161616" opacity="0.88"/>
<rect x="495.3" y="504.5" width="8.0" height="2.4" rx="1.2" fill="#161616" opacity="0.45"/>
<rect x="504.1" y="502.3" width="11.0" height="4.0" rx="1.8" fill="#161616" opacity="0.85"/>
<rect x="506.3" y="499.6" width="9.0" height="3.0" rx="1.5" fill="#161616" opacity="0.35"/>
<rect x="414.9" y="501.1" width="4.0" height="2.0" rx="1.0" fill="#161616" opacity="0.15"/>
</g></g>
<text x="301" y="508.9" font-size="10.1" text-anchor="end" fill="#0a0a0a">γ-H2Ax</text>
<clipPath id="c301_516"><rect x="301.4" y="516.6" width="106.2" height="18"/></clipPath>
<rect x="301.4" y="516.6" width="106.2" height="18" fill="#b0b0b0"/>
<g clip-path="url(#c301_516)"><g filter="url(#bl2)">
<rect x="300.7" y="523.3" width="14.0" height="6.2" rx="2" fill="#222" opacity="0.22"/>
<rect x="312.1" y="523.3" width="14.0" height="6.2" rx="2" fill="#222" opacity="0.22"/>
<rect x="323.6" y="523.3" width="14.0" height="6.2" rx="2" fill="#222" opacity="0.22"/>
<rect x="335.0" y="523.3" width="14.0" height="6.2" rx="2" fill="#222" opacity="0.22"/>
<rect x="346.5" y="523.3" width="14.0" height="6.2" rx="2" fill="#222" opacity="0.22"/>
<rect x="357.9" y="523.3" width="14.0" height="6.2" rx="2" fill="#222" opacity="0.22"/>
<rect x="369.4" y="523.3" width="14.0" height="6.2" rx="2" fill="#222" opacity="0.22"/>
<rect x="380.8" y="523.3" width="14.0" height="6.2" rx="2" fill="#222" opacity="0.22"/>
<rect x="392.3" y="523.3" width="14.0" height="6.2" rx="2" fill="#222" opacity="0.22"/>
</g><g filter="url(#bl)">
<rect x="302.2" y="524.6" width="11.0" height="3.6" rx="1.8" fill="#161616" opacity="0.93"/>
<rect x="313.6" y="524.6" width="11.0" height="3.6" rx="1.8" fill="#161616" opacity="0.93"/>
<rect x="325.1" y="524.6" width="11.0" height="3.6" rx="1.8" fill="#161616" opacity="0.93"/>
<rect x="336.5" y="524.6" width="11.0" height="3.6" rx="1.8" fill="#161616" opacity="0.93"/>
<rect x="348.0" y="524.6" width="11.0" height="3.6" rx="1.8" fill="#161616" opacity="0.93"/>
<rect x="359.4" y="524.6" width="11.0" height="3.6" rx="1.8" fill="#161616" opacity="0.93"/>
<rect x="370.9" y="524.6" width="11.0" height="3.6" rx="1.8" fill="#161616" opacity="0.93"/>
<rect x="382.3" y="524.6" width="11.0" height="3.6" rx="1.8" fill="#161616" opacity="0.93"/>
<rect x="393.8" y="524.6" width="11.0" height="3.6" rx="1.8" fill="#161616" opacity="0.93"/>
</g></g>
<clipPath id="c410_516"><rect x="410.8" y="516.6" width="105.8" height="18"/></clipPath>
<rect x="410.8" y="516.6" width="105.8" height="18" fill="#b1b1b1"/>
<g clip-path="url(#c410_516)"><g filter="url(#bl2)">
<rect x="409.9" y="522.0" width="14.0" height="6.4" rx="2" fill="#222" opacity="0.22"/>
<rect x="421.3" y="522.0" width="14.0" height="6.4" rx="2" fill="#222" opacity="0.22"/>
<rect x="432.8" y="522.0" width="14.0" height="6.4" rx="2" fill="#222" opacity="0.22"/>
<rect x="444.2" y="522.0" width="14.0" height="6.4" rx="2" fill="#222" opacity="0.22"/>
<rect x="455.7" y="522.0" width="14.0" height="6.4" rx="2" fill="#222" opacity="0.22"/>
<rect x="467.1" y="522.0" width="14.0" height="6.4" rx="2" fill="#222" opacity="0.22"/>
<rect x="478.6" y="520.9" width="14.0" height="6.2" rx="2" fill="#222" opacity="0.22"/>
<rect x="490.0" y="520.9" width="14.0" height="6.2" rx="2" fill="#222" opacity="0.22"/>
<rect x="501.5" y="520.9" width="14.0" height="6.2" rx="2" fill="#222" opacity="0.22"/>
</g><g filter="url(#bl)">
<rect x="411.4" y="523.3" width="11.0" height="3.8" rx="1.8" fill="#161616" opacity="0.93"/>
<rect x="422.8" y="523.3" width="11.0" height="3.8" rx="1.8" fill="#161616" opacity="0.93"/>
<rect x="434.3" y="523.3" width="11.0" height="3.8" rx="1.8" fill="#161616" opacity="0.93"/>
<rect x="445.8" y="523.3" width="11.0" height="3.8" rx="1.8" fill="#161616" opacity="0.93"/>
<rect x="457.2" y="523.3" width="11.0" height="3.8" rx="1.8" fill="#161616" opacity="0.93"/>
<rect x="468.6" y="523.3" width="11.0" height="3.8" rx="1.8" fill="#161616" opacity="0.93"/>
<rect x="480.1" y="522.2" width="11.0" height="3.6" rx="1.8" fill="#161616" opacity="0.93"/>
<rect x="491.5" y="522.2" width="11.0" height="3.6" rx="1.8" fill="#161616" opacity="0.93"/>
<rect x="503.0" y="522.2" width="11.0" height="3.6" rx="1.8" fill="#161616" opacity="0.93"/>
</g></g>
<text x="301" y="525.5" font-size="10.1" text-anchor="end" fill="#0a0a0a">β-Actin</text>
</g>
</svg>
</body></html>
